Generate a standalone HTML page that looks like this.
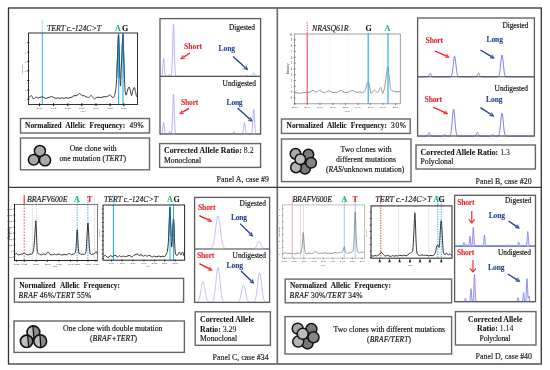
<!DOCTYPE html>
<html><head><meta charset="utf-8"><title>Figure</title>
<style>
html,body{margin:0;padding:0;background:#fff;width:550px;height:370px;overflow:hidden;}
svg{display:block;filter:blur(0.3px);}
text{font-family:'Liberation Serif', 'Times New Roman', serif;}
</style></head><body>
<svg width="550" height="370" viewBox="0 0 550 370">
<rect width="550" height="370" fill="#fff"/>
<rect x="8.5" y="8" width="532.8" height="356" fill="none" stroke="#333" stroke-width="1.3"/>
<line x1="277.3" y1="8" x2="277.3" y2="364" stroke="#707070" stroke-width="1.7"/>
<line x1="8.5" y1="187.4" x2="541.3" y2="187.4" stroke="#3a3a3a" stroke-width="1.1"/>
<line x1="42.3" y1="20" x2="42.3" y2="33" stroke="#a6e0f7" stroke-width="1.0"/>
<line x1="42.3" y1="33" x2="42.3" y2="104.5" stroke="#26b2ec" stroke-width="1.0"/>
<path d="M29,97.5 C29.2,97.33 29.78,96.82 30.2,96.5 C30.62,96.18 31.1,95.43 31.5,95.6 C31.9,95.77 32.25,96.9 32.6,97.5 C32.95,98.1 33.2,99.18 33.6,99.2 C34,99.22 34.52,97.93 35,97.6 C35.48,97.27 36,97.13 36.5,97.2 C37,97.27 37.42,97.97 38,98 C38.58,98.03 39.33,97.6 40,97.4 C40.67,97.2 41.33,96.77 42,96.8 C42.67,96.83 43.33,97.32 44,97.6 C44.67,97.88 45.33,98.5 46,98.5 C46.67,98.5 47.33,97.85 48,97.6 C48.67,97.35 49.3,97.17 50,97 C50.7,96.83 51.53,96.47 52.2,96.6 C52.87,96.73 53.37,97.53 54,97.8 C54.63,98.07 55.33,98.17 56,98.2 C56.67,98.23 57.33,97.97 58,98 C58.67,98.03 59.33,98.43 60,98.4 C60.67,98.37 61.33,97.8 62,97.8 C62.67,97.8 63.33,98.43 64,98.4 C64.67,98.37 65.33,97.62 66,97.6 C66.67,97.58 67.33,98.3 68,98.3 C68.67,98.3 69.33,97.78 70,97.6 C70.67,97.42 71.33,97.53 72,97.2 C72.67,96.87 73.33,95.83 74,95.6 C74.67,95.37 75.33,95.97 76,95.8 C76.67,95.63 77.33,94.98 78,94.6 C78.67,94.22 79.33,93.3 80,93.5 C80.67,93.7 81.3,95.45 82,95.8 C82.7,96.15 83.53,95.43 84.2,95.6 C84.87,95.77 85.28,96.48 86,96.8 C86.72,97.12 87.83,97.57 88.5,97.5 C89.17,97.43 89.53,96.72 90,96.4 C90.47,96.08 90.8,95.42 91.3,95.6 C91.8,95.78 92.47,96.93 93,97.5 C93.53,98.07 94,98.95 94.5,99 C95,99.05 95.42,98.1 96,97.8 C96.58,97.5 97.33,97.23 98,97.2 C98.67,97.17 99.33,97.58 100,97.6 C100.67,97.62 101.33,97.48 102,97.3 C102.67,97.12 103.33,96.55 104,96.5 C104.67,96.45 105.33,97.08 106,97 C106.67,96.92 107.27,96.33 108,96 C108.73,95.67 109.73,94.83 110.4,95 C111.07,95.17 111.57,96.53 112,97 C112.43,97.47 112.83,97.67 113,97.8" fill="none" stroke="#2a2a2a" stroke-width="0.9" stroke-linejoin="round"/>
<path d="M113,97.8 C113.2,97.58 113.82,97.5 114.2,96.5 C114.58,95.5 114.92,94.22 115.3,91.8 C115.68,89.38 116.12,88.13 116.5,82 C116.88,75.87 117.27,62.92 117.6,55 C117.93,47.08 118.22,34.5 118.5,34.5 C118.78,34.5 118.98,46.42 119.3,55 C119.62,63.58 120.03,84.5 120.4,86 C120.77,87.5 121.18,70.83 121.5,64 C121.82,57.17 122.05,49.92 122.3,45 C122.55,40.08 122.77,32.83 123,34.5 C123.23,36.17 123.43,47.08 123.7,55 C123.97,62.92 124.32,75.67 124.6,82 C124.88,88.33 125.13,90.83 125.4,93 C125.67,95.17 125.83,95.5 126.2,95 C126.57,94.5 127.12,91.33 127.6,90 C128.08,88.67 128.63,86.83 129.1,87 C129.57,87.17 129.98,89.57 130.4,91 C130.82,92.43 131.17,95.77 131.6,95.6 C132.03,95.43 132.55,91.35 133,90 C133.45,88.65 133.88,87.25 134.3,87.5 C134.72,87.75 135.13,90.05 135.5,91.5 C135.87,92.95 136.2,95.32 136.5,96.2 C136.8,97.08 137.17,96.7 137.3,96.8" fill="none" stroke="#2a2a2a" stroke-width="0.9" stroke-linejoin="round"/>
<line x1="118.6" y1="33" x2="118.6" y2="104.5" stroke="#26b2ec" stroke-width="1.1"/>
<line x1="123" y1="33" x2="123" y2="104.5" stroke="#26b2ec" stroke-width="1.1"/>
<path d="M116.6,78 C116.77,74.17 117.28,62.25 117.6,55 C117.92,47.75 118.22,34.5 118.5,34.5 C118.78,34.5 119.05,47.75 119.3,55 C119.55,62.25 119.88,74.17 120,78" fill="none" stroke="#1d5a80" stroke-width="0.9" stroke-linejoin="round"/>
<path d="M121.7,62 C121.8,59.17 122.08,49.58 122.3,45 C122.52,40.42 122.77,32.83 123,34.5 C123.23,36.17 123.47,47.75 123.7,55 C123.93,62.25 124.28,74.17 124.4,78" fill="none" stroke="#1d5a80" stroke-width="0.9" stroke-linejoin="round"/>
<rect x="28.5" y="33" width="109" height="71.5" fill="none" stroke="#333" stroke-width="1.0"/>
<line x1="27.1" y1="42.6" x2="29.3" y2="42.6" stroke="#111" stroke-width="0.8"/>
<text x="26.3" y="43.9" font-size="2.8" fill="#444" text-anchor="end">7</text>
<line x1="27.1" y1="52.2" x2="29.3" y2="52.2" stroke="#111" stroke-width="0.8"/>
<text x="26.3" y="53.5" font-size="2.8" fill="#444" text-anchor="end">6</text>
<line x1="27.1" y1="61.4" x2="29.3" y2="61.4" stroke="#111" stroke-width="0.8"/>
<text x="26.3" y="62.7" font-size="2.8" fill="#444" text-anchor="end">5</text>
<line x1="27.1" y1="70.8" x2="29.3" y2="70.8" stroke="#111" stroke-width="0.8"/>
<text x="26.3" y="72.1" font-size="2.8" fill="#444" text-anchor="end">4</text>
<line x1="27.1" y1="80.5" x2="29.3" y2="80.5" stroke="#111" stroke-width="0.8"/>
<text x="26.3" y="81.8" font-size="2.8" fill="#444" text-anchor="end">3</text>
<line x1="27.1" y1="90" x2="29.3" y2="90" stroke="#111" stroke-width="0.8"/>
<text x="26.3" y="91.3" font-size="2.8" fill="#444" text-anchor="end">2</text>
<line x1="27.1" y1="99.4" x2="29.3" y2="99.4" stroke="#111" stroke-width="0.8"/>
<text x="26.3" y="100.7" font-size="2.8" fill="#444" text-anchor="end">1</text>
<line x1="39.6" y1="103.3" x2="39.6" y2="106.2" stroke="#111" stroke-width="1.0"/>
<text x="39.6" y="109" font-size="2.8" fill="#444" text-anchor="middle">4620</text>
<line x1="53.6" y1="103.3" x2="53.6" y2="106.2" stroke="#111" stroke-width="1.0"/>
<text x="53.6" y="109" font-size="2.8" fill="#444" text-anchor="middle">4700</text>
<line x1="67.8" y1="103.3" x2="67.8" y2="106.2" stroke="#111" stroke-width="1.0"/>
<text x="67.8" y="109" font-size="2.8" fill="#444" text-anchor="middle">4750</text>
<line x1="81.8" y1="103.3" x2="81.8" y2="106.2" stroke="#111" stroke-width="1.0"/>
<text x="81.8" y="109" font-size="2.8" fill="#444" text-anchor="middle">4800</text>
<line x1="96" y1="103.3" x2="96" y2="106.2" stroke="#111" stroke-width="1.0"/>
<text x="96" y="109" font-size="2.8" fill="#444" text-anchor="middle">4850</text>
<line x1="110.1" y1="103.3" x2="110.1" y2="106.2" stroke="#111" stroke-width="1.0"/>
<text x="110.1" y="109" font-size="2.8" fill="#444" text-anchor="middle">4900</text>
<line x1="123.8" y1="103.3" x2="123.8" y2="106.2" stroke="#111" stroke-width="1.0"/>
<text x="123.8" y="109" font-size="2.8" fill="#444" text-anchor="middle">4950</text>
<text x="22.3" y="69.5" font-size="2.7" fill="#555" text-anchor="middle" transform="rotate(-90 22.3 69)">Intensity</text>
<text x="83" y="111.9" font-size="2.7" fill="#555" text-anchor="middle">Pass</text>
<text x="47" y="31.3" font-size="7.8" font-style="italic" fill="#222" stroke="#222" stroke-width="0.16" textLength="54" lengthAdjust="spacing">TERT c.-124C&gt;T</text>
<text x="114.9" y="31.3" font-size="8.0" font-weight="bold" fill="#1cb46e" stroke="#1cb46e" stroke-width="0.06" textLength="5.3" lengthAdjust="spacing">A</text>
<text x="121.9" y="31.3" font-size="8.0" font-weight="bold" fill="#111" stroke="#111" stroke-width="0.06" textLength="6" lengthAdjust="spacing">G</text>
<rect x="20.5" y="118.5" width="129" height="14.5" fill="none" stroke="#666" stroke-width="1.4"/>
<text x="25.1" y="128.2" font-size="7.35" font-weight="bold" fill="#111" stroke="#111" stroke-width="0.06" textLength="36.6" lengthAdjust="spacing">Normalized</text>
<text x="65.2" y="128.2" font-size="7.35" font-weight="bold" fill="#111" stroke="#111" stroke-width="0.06" textLength="20.3" lengthAdjust="spacing">Allelic</text>
<text x="89.5" y="128.2" font-size="7.35" font-weight="bold" fill="#111" stroke="#111" stroke-width="0.06" textLength="35.7" lengthAdjust="spacing">Frequency:</text>
<text x="129.6" y="128.2" font-size="7.35" fill="#111" stroke="#111" stroke-width="0.16" textLength="14" lengthAdjust="spacing">49%</text>
<rect x="20.5" y="138" width="129" height="31.8" fill="none" stroke="#666" stroke-width="1.4"/>
<circle cx="33.7" cy="159.7" r="5.3" fill="#a9a9a9" stroke="#111" stroke-width="1.5"/>
<circle cx="45" cy="160.2" r="5.6" fill="#a9a9a9" stroke="#111" stroke-width="1.5"/>
<circle cx="39.9" cy="151" r="5.5" fill="#a9a9a9" stroke="#111" stroke-width="1.5"/>
<text x="93.2" y="151.1" font-size="7.7" fill="#111" stroke="#111" stroke-width="0.16" text-anchor="middle" textLength="47" lengthAdjust="spacing">One clone with</text>
<text x="92.7" y="160.9" font-size="7.7" fill="#111" stroke="#111" stroke-width="0.16" text-anchor="middle" textLength="66.6" lengthAdjust="spacing">one mutation  (<tspan font-style="italic">TERT</tspan>)</text>
<polyline points="160.6,76.3 160.9,76.29 161.2,76.25 161.5,76.1 161.8,75.64 162.1,74.49 162.4,72.16 162.7,68.42 163,63.83 163.3,59.88 163.6,58.3 163.9,59.88 164.2,63.83 164.5,68.42 164.8,72.16 165.1,74.49 165.4,75.64 165.7,76.1 166,76.25 166.3,76.29 167.5,76.26 167.8,76.16 168.1,75.89 168.4,75.4 168.7,74.75 169,74.22 169.3,74.13 169.6,74.54 169.9,75.19 170.2,75.75 170.5,76.07 170.8,76.16 171.1,75.97 171.4,75.27 171.7,73.38 172,69.26 172.3,61.84 172.6,50.99 172.9,38.54 173.2,28.3 173.5,24.3 173.8,28.3 174.1,38.54 174.4,50.99 174.7,61.84 175,69.26 175.3,73.38 175.6,75.27 175.9,75.99 176.2,76.22 176.5,76.28 245.2,76.29 245.5,76.25 245.8,76.14 246.1,75.91 246.4,75.57 246.7,75.24 247,75.1 247.3,75.24 247.6,75.57 247.9,75.91 248.2,76.14 248.5,76.25 248.8,76.29 251.2,76.27 251.5,76.22 251.8,76.09 252.1,75.83 252.4,75.37 252.7,74.7 253,73.91 253.3,73.21 253.6,72.83 253.9,72.91 254.2,73.42 254.5,74.18 254.8,74.94 255.1,75.54 255.4,75.93 255.7,76.15 256,76.24 256.3,76.28 259.9,76.3" fill="none" stroke="#a9a9f0" stroke-width="0.85" stroke-linejoin="round"/>
<polyline points="160.6,134.2 161.2,134.17 161.5,134.07 161.8,133.76 162.1,132.99 162.4,131.44 162.7,128.95 163,125.89 163.3,123.25 163.6,122.2 163.9,123.25 164.2,125.89 164.5,128.95 164.8,131.44 165.1,132.99 165.4,133.76 165.7,134.07 166,134.17 167.5,134.19 167.8,134.15 168.1,134 168.4,133.64 168.7,132.97 169,132.08 169.3,131.36 169.6,131.24 169.9,131.8 170.2,132.68 170.5,133.44 170.8,133.85 171.1,133.88 171.4,133.39 171.7,131.95 172,128.79 172.3,123.08 172.6,114.73 172.9,105.15 173.2,97.28 173.5,94.2 173.8,97.28 174.1,105.15 174.4,114.73 174.7,123.08 175,128.79 175.3,131.95 175.6,133.41 175.9,133.96 176.2,134.14 176.5,134.19 232.3,134.15 232.6,134.04 232.9,133.73 233.2,133.17 233.5,132.43 233.8,131.84 234.1,131.73 234.4,132.2 234.7,132.93 235,133.58 235.3,133.96 235.6,134.13 235.9,134.18 241.6,134.18 241.9,134.14 242.2,134.01 242.5,133.67 242.8,132.95 243.1,131.6 243.4,129.54 243.7,126.92 244,124.33 244.3,122.57 244.6,122.29 244.9,123.61 245.2,126.02 245.5,128.71 245.8,131 246.1,132.58 246.4,133.48 246.7,133.93 247,134.11 247.3,134.17 250.6,134.19 250.9,134.15 251.2,134.01 251.5,133.63 251.8,132.71 252.1,130.82 252.4,127.52 252.7,122.75 253,117.15 253.3,112.14 253.6,109.39 253.9,109.97 254.2,113.64 254.5,119.04 254.8,124.49 255.1,128.79 255.4,131.59 255.7,133.1 256,133.8 256.3,134.07 256.6,134.16 259.9,134.2" fill="none" stroke="#a9a9f0" stroke-width="0.85" stroke-linejoin="round"/>
<rect x="160" y="18.6" width="100.6" height="115.4" fill="none" stroke="#5a5a5a" stroke-width="1.3"/>
<line x1="160" y1="76.3" x2="260.6" y2="76.3" stroke="#555" stroke-width="1.2"/>
<text x="229" y="29.5" font-size="7.4" fill="#111" stroke="#111" stroke-width="0.16" textLength="26" lengthAdjust="spacing">Digested</text>
<text x="184" y="48.9" font-size="7.6" font-weight="bold" fill="#ec1c24" stroke="#ec1c24" stroke-width="0.06" textLength="18" lengthAdjust="spacing">Short</text>
<line x1="190" y1="53" x2="183.34" y2="57.21" stroke="#ec1c24" stroke-width="1.3"/>
<polygon points="182.98,55.07 180.5,59 185.12,58.45 182.63,57.65" fill="#ec1c24" stroke="#ec1c24" stroke-width="0.4" stroke-linejoin="miter"/>
<text x="218.6" y="51.1" font-size="7.5" font-weight="bold" fill="#1f3d8f" stroke="#1f3d8f" stroke-width="0.06" textLength="16.4" lengthAdjust="spacing">Long</text>
<line x1="233" y1="56.4" x2="245.51" y2="67.74" stroke="#1f3d8f" stroke-width="1.3"/>
<polygon points="243.55,68.66 248,70 246.23,65.7 246.13,68.31" fill="#1f3d8f" stroke="#1f3d8f" stroke-width="0.4" stroke-linejoin="miter"/>
<text x="222.6" y="85.9" font-size="7.4" fill="#111" stroke="#111" stroke-width="0.16" textLength="33.4" lengthAdjust="spacing">Undigested</text>
<text x="181" y="104.5" font-size="7.6" font-weight="bold" fill="#ec1c24" stroke="#ec1c24" stroke-width="0.06" textLength="17.4" lengthAdjust="spacing">Short</text>
<line x1="189" y1="108.4" x2="182.39" y2="112.29" stroke="#ec1c24" stroke-width="1.3"/>
<polygon points="182.1,110.14 179.5,114 184.13,113.59 181.67,112.72" fill="#ec1c24" stroke="#ec1c24" stroke-width="0.4" stroke-linejoin="miter"/>
<text x="226.6" y="104.5" font-size="7.5" font-weight="bold" fill="#1f3d8f" stroke="#1f3d8f" stroke-width="0.06" textLength="16" lengthAdjust="spacing">Long</text>
<line x1="237.6" y1="108" x2="249.93" y2="119.33" stroke="#1f3d8f" stroke-width="1.3"/>
<polygon points="247.95,120.23 252.4,121.6 250.66,117.29 250.54,119.89" fill="#1f3d8f" stroke="#1f3d8f" stroke-width="0.4" stroke-linejoin="miter"/>
<rect x="159.6" y="143.6" width="101" height="23.8" fill="none" stroke="#666" stroke-width="1.4"/>
<text x="164" y="153.1" font-size="7.8" font-weight="bold" fill="#111" stroke="#111" stroke-width="0.06" textLength="89.6" lengthAdjust="spacing">Corrected Allele Ratio:<tspan font-weight="normal"> 8.2</tspan></text>
<text x="164" y="162.9" font-size="7.7" fill="#111" stroke="#111" stroke-width="0.16">Monoclonal</text>
<text x="216.6" y="182.4" font-size="7.9" fill="#222" stroke="#222" stroke-width="0.16" textLength="52.4" lengthAdjust="spacing">Panel A, case #9</text>
<line x1="330" y1="34" x2="330" y2="103.8" stroke="#f0f0f0" stroke-width="0.6"/>
<line x1="348" y1="34" x2="348" y2="103.8" stroke="#f0f0f0" stroke-width="0.6"/>
<line x1="384" y1="34" x2="384" y2="103.8" stroke="#f0f0f0" stroke-width="0.6"/>
<line x1="307.2" y1="22" x2="307.2" y2="34" stroke="#f06060" stroke-width="1.0" stroke-dasharray="1.5,1"/>
<line x1="307.2" y1="34" x2="307.2" y2="103.8" stroke="#f04545" stroke-width="1.05"/>
<path d="M294.5,92.6 C294.92,92.65 296.08,92.8 297,92.9 C297.92,93 299,93.25 300,93.2 C301,93.15 302,92.73 303,92.6 C304,92.47 305,92.43 306,92.4 C307,92.37 308.17,92.53 309,92.4 C309.83,92.27 310.33,91.97 311,91.6 C311.67,91.23 312.33,90.2 313,90.2 C313.67,90.2 314.33,91.27 315,91.6 C315.67,91.93 316.27,92.43 317,92.2 C317.73,91.97 318.65,90.33 319.4,90.2 C320.15,90.07 320.68,90.97 321.5,91.4 C322.32,91.83 323.38,92.77 324.3,92.8 C325.22,92.83 326.22,91.93 327,91.6 C327.78,91.27 328.33,90.77 329,90.8 C329.67,90.83 330.33,91.5 331,91.8 C331.67,92.1 332.33,92.53 333,92.6 C333.67,92.67 334.33,92.23 335,92.2 C335.67,92.17 336.33,92.57 337,92.4 C337.67,92.23 338.33,91.53 339,91.2 C339.67,90.87 340.33,90.33 341,90.4 C341.67,90.47 342.33,91.23 343,91.6 C343.67,91.97 344.33,92.47 345,92.6 C345.67,92.73 346.33,92.5 347,92.4 C347.67,92.3 348.33,92.27 349,92 C349.67,91.73 350.33,91.03 351,90.8 C351.67,90.57 352.33,90.43 353,90.6 C353.67,90.77 354.33,91.5 355,91.8 C355.67,92.1 356.33,92.37 357,92.4 C357.67,92.43 358.33,92.03 359,92 C359.67,91.97 360.42,92.1 361,92.2 C361.58,92.3 362,92.67 362.5,92.6 C363,92.53 363.5,92.32 364,91.8 C364.5,91.28 365.03,90.72 365.5,89.5 C365.97,88.28 366.35,85.78 366.8,84.5 C367.25,83.22 367.77,81.72 368.2,81.8 C368.63,81.88 369.05,83.63 369.4,85 C369.75,86.37 370.03,88.6 370.3,90 C370.57,91.4 370.62,93.15 371,93.4 C371.38,93.65 372.02,92.03 372.6,91.5 C373.18,90.97 373.9,90.2 374.5,90.2 C375.1,90.2 375.62,91.1 376.2,91.5 C376.78,91.9 377.45,92.93 378,92.6 C378.55,92.27 379.03,90.37 379.5,89.5 C379.97,88.63 380.42,87.32 380.8,87.4 C381.18,87.48 381.5,88.95 381.8,90 C382.1,91.05 382.23,93.7 382.6,93.7 C382.97,93.7 383.57,91.62 384,90 C384.43,88.38 384.8,86.5 385.2,84 C385.6,81.5 385.97,77.83 386.4,75 C386.83,72.17 387.33,66.67 387.8,67 C388.27,67.33 388.82,74 389.2,77 C389.58,80 389.87,83.03 390.1,85 C390.33,86.97 390.28,87.9 390.6,88.8 C390.92,89.7 391.52,90 392,90.4 C392.48,90.8 392.83,90.97 393.5,91.2 C394.17,91.43 395.25,91.73 396,91.8 C396.75,91.87 397.33,91.63 398,91.6 C398.67,91.57 399.67,91.6 400,91.6" fill="none" stroke="#808080" stroke-width="0.8" stroke-linejoin="round"/>
<line x1="368.2" y1="33" x2="368.2" y2="103.8" stroke="#26b2ec" stroke-width="1.2"/>
<line x1="388" y1="33" x2="388" y2="103.8" stroke="#26b2ec" stroke-width="1.2"/>
<rect x="294.5" y="34" width="105.8" height="69.8" fill="none" stroke="#888" stroke-width="0.8"/>
<line x1="293.7" y1="39.82" x2="295.9" y2="39.82" stroke="#555" stroke-width="0.6"/>
<text x="292.3" y="41.12" font-size="3.0" fill="#444" text-anchor="end">9</text>
<line x1="293.7" y1="45.63" x2="295.9" y2="45.63" stroke="#555" stroke-width="0.6"/>
<text x="292.3" y="46.93" font-size="3.0" fill="#444" text-anchor="end">8</text>
<line x1="293.7" y1="51.45" x2="295.9" y2="51.45" stroke="#555" stroke-width="0.6"/>
<text x="292.3" y="52.75" font-size="3.0" fill="#444" text-anchor="end">7</text>
<line x1="293.7" y1="57.27" x2="295.9" y2="57.27" stroke="#555" stroke-width="0.6"/>
<text x="292.3" y="58.57" font-size="3.0" fill="#444" text-anchor="end">6</text>
<line x1="293.7" y1="63.08" x2="295.9" y2="63.08" stroke="#555" stroke-width="0.6"/>
<text x="292.3" y="64.38" font-size="3.0" fill="#444" text-anchor="end">5</text>
<line x1="293.7" y1="68.9" x2="295.9" y2="68.9" stroke="#555" stroke-width="0.6"/>
<text x="292.3" y="70.2" font-size="3.0" fill="#444" text-anchor="end">4</text>
<line x1="293.7" y1="74.72" x2="295.9" y2="74.72" stroke="#555" stroke-width="0.6"/>
<text x="292.3" y="76.02" font-size="3.0" fill="#444" text-anchor="end">3</text>
<line x1="293.7" y1="80.53" x2="295.9" y2="80.53" stroke="#555" stroke-width="0.6"/>
<text x="292.3" y="81.83" font-size="3.0" fill="#444" text-anchor="end">2</text>
<line x1="293.7" y1="86.35" x2="295.9" y2="86.35" stroke="#555" stroke-width="0.6"/>
<text x="292.3" y="87.65" font-size="3.0" fill="#444" text-anchor="end">1</text>
<line x1="293.7" y1="92.17" x2="295.9" y2="92.17" stroke="#555" stroke-width="0.6"/>
<text x="292.3" y="93.47" font-size="3.0" fill="#444" text-anchor="end">0</text>
<line x1="293.7" y1="97.98" x2="295.9" y2="97.98" stroke="#555" stroke-width="0.6"/>
<text x="292.3" y="99.28" font-size="3.0" fill="#444" text-anchor="end">-1</text>
<line x1="293.7" y1="103.8" x2="295.9" y2="103.8" stroke="#555" stroke-width="0.6"/>
<text x="292.3" y="105.1" font-size="3.0" fill="#444" text-anchor="end"></text>
<text x="292.3" y="36" font-size="3.0" fill="#444" text-anchor="end">10</text>
<line x1="294.5" y1="103" x2="294.5" y2="105.2" stroke="#555" stroke-width="0.6"/>
<text x="294.5" y="108.3" font-size="2.9" fill="#444" text-anchor="middle">4450</text>
<line x1="307.2" y1="103" x2="307.2" y2="105.2" stroke="#555" stroke-width="0.6"/>
<text x="307.2" y="108.3" font-size="2.9" fill="#444" text-anchor="middle">4500</text>
<line x1="320" y1="103" x2="320" y2="105.2" stroke="#555" stroke-width="0.6"/>
<text x="320" y="108.3" font-size="2.9" fill="#444" text-anchor="middle">4550</text>
<line x1="333" y1="103" x2="333" y2="105.2" stroke="#555" stroke-width="0.6"/>
<text x="333" y="108.3" font-size="2.9" fill="#444" text-anchor="middle">4600</text>
<line x1="345.5" y1="103" x2="345.5" y2="105.2" stroke="#555" stroke-width="0.6"/>
<text x="345.5" y="108.3" font-size="2.9" fill="#444" text-anchor="middle">4650</text>
<line x1="358" y1="103" x2="358" y2="105.2" stroke="#555" stroke-width="0.6"/>
<text x="358" y="108.3" font-size="2.9" fill="#444" text-anchor="middle">4700</text>
<line x1="370.5" y1="103" x2="370.5" y2="105.2" stroke="#555" stroke-width="0.6"/>
<text x="370.5" y="108.3" font-size="2.9" fill="#444" text-anchor="middle">4750</text>
<line x1="383" y1="103" x2="383" y2="105.2" stroke="#555" stroke-width="0.6"/>
<text x="383" y="108.3" font-size="2.9" fill="#444" text-anchor="middle">4800</text>
<line x1="395.5" y1="103" x2="395.5" y2="105.2" stroke="#555" stroke-width="0.6"/>
<text x="395.5" y="108.3" font-size="2.9" fill="#444" text-anchor="middle">4850</text>
<text x="288.6" y="69.5" font-size="3.0" fill="#444" text-anchor="middle" transform="rotate(-90 288.4 69)">Intensity</text>
<text x="347" y="111.7" font-size="2.8" fill="#444" text-anchor="middle">Pass</text>
<text x="312" y="31.3" font-size="7.8" font-style="italic" fill="#222" stroke="#222" stroke-width="0.16" textLength="36.6" lengthAdjust="spacing">NRASQ61R</text>
<text x="365.6" y="31.3" font-size="8.0" font-weight="bold" fill="#111" stroke="#111" stroke-width="0.06" textLength="5.8" lengthAdjust="spacing">G</text>
<text x="384.6" y="31.3" font-size="8.0" font-weight="bold" fill="#1cb46e" stroke="#1cb46e" stroke-width="0.06" textLength="5.8" lengthAdjust="spacing">A</text>
<rect x="281.5" y="119" width="128.7" height="14.4" fill="none" stroke="#666" stroke-width="1.4"/>
<text x="286.6" y="128.2" font-size="7.35" font-weight="bold" fill="#111" stroke="#111" stroke-width="0.06" textLength="36.7" lengthAdjust="spacing">Normalized</text>
<text x="327.1" y="128.2" font-size="7.35" font-weight="bold" fill="#111" stroke="#111" stroke-width="0.06" textLength="19.7" lengthAdjust="spacing">Allelic</text>
<text x="350.7" y="128.2" font-size="7.35" font-weight="bold" fill="#111" stroke="#111" stroke-width="0.06" textLength="36.3" lengthAdjust="spacing">Frequency:</text>
<text x="391.1" y="128.2" font-size="7.35" fill="#111" stroke="#111" stroke-width="0.16" textLength="14.7" lengthAdjust="spacing">30%</text>
<rect x="281.5" y="139" width="129.5" height="42.6" fill="none" stroke="#666" stroke-width="1.4"/>
<circle cx="295.5" cy="153.9" r="5.3" fill="#a8a8a8" stroke="#111" stroke-width="1.5"/>
<circle cx="308.4" cy="154.6" r="5.3" fill="#7a7a7a" stroke="#111" stroke-width="1.5"/>
<circle cx="305" cy="168.8" r="5.3" fill="#787878" stroke="#111" stroke-width="1.5"/>
<circle cx="311.1" cy="162.7" r="5.3" fill="#868686" stroke="#111" stroke-width="1.5"/>
<circle cx="296" cy="167.4" r="5.3" fill="#b5b5b5" stroke="#111" stroke-width="1.5"/>
<circle cx="300.3" cy="159.3" r="5.3" fill="#bdbdbd" stroke="#111" stroke-width="1.5"/>
<text x="366" y="152.1" font-size="7.7" fill="#111" stroke="#111" stroke-width="0.16" text-anchor="middle" textLength="51" lengthAdjust="spacing">Two clones  with</text>
<text x="366" y="162.1" font-size="7.7" fill="#111" stroke="#111" stroke-width="0.16" text-anchor="middle" textLength="60" lengthAdjust="spacing">different  mutations</text>
<text x="365.2" y="171.5" font-size="7.6" fill="#111" stroke="#111" stroke-width="0.16" text-anchor="middle" textLength="78.4" lengthAdjust="spacing">(<tspan font-style="italic">RAS</tspan>/unknown  mutation)</text>
<polyline points="418.2,77 427.2,76.97 427.5,76.92 427.8,76.83 428.1,76.66 428.4,76.37 428.7,75.94 429,75.37 429.3,74.7 429.6,74.03 429.9,73.49 430.2,73.22 430.5,73.28 430.8,73.65 431.1,74.24 431.4,74.92 431.7,75.57 432,76.1 432.3,76.49 432.6,76.73 432.9,76.87 433.2,76.94 433.5,76.98 450,76.96 450.3,76.91 450.6,76.82 450.9,76.64 451.2,76.32 451.5,75.79 451.8,74.95 452.1,73.73 452.4,72.03 452.7,69.85 453,67.25 453.3,64.38 453.6,61.53 453.9,59.01 454.2,57.16 454.5,56.26 454.8,56.44 455.1,57.68 455.4,59.79 455.7,62.46 456,65.35 456.3,68.15 456.6,70.63 456.9,72.65 457.2,74.19 457.5,75.27 457.8,75.99 458.1,76.45 458.4,76.71 458.7,76.86 459,76.93 459.3,76.97 475.5,76.96 475.8,76.9 476.1,76.79 476.4,76.58 476.7,76.25 477,75.77 477.3,75.15 477.6,74.47 477.9,73.83 478.2,73.37 478.5,73.2 478.8,73.37 479.1,73.83 479.4,74.47 479.7,75.15 480,75.77 480.3,76.25 480.6,76.58 480.9,76.79 481.2,76.9 481.5,76.96 497.4,76.96 497.7,76.91 498,76.81 498.3,76.62 498.6,76.28 498.9,75.72 499.2,74.84 499.5,73.54 499.8,71.75 500.1,69.44 500.4,66.68 500.7,63.66 501,60.63 501.3,57.97 501.6,56.02 501.9,55.06 502.2,55.26 502.5,56.57 502.8,58.8 503.1,61.62 503.4,64.68 503.7,67.64 504,70.26 504.3,72.4 504.6,74.02 504.9,75.17 505.2,75.94 505.5,76.41 505.8,76.69 506.1,76.85 506.4,76.93 506.7,76.97 533.7,77" fill="none" stroke="#6e6ef2" stroke-width="0.9" stroke-linejoin="round"/>
<polyline points="418.2,136.2 426,136.18 426.3,136.15 426.6,136.08 426.9,135.94 427.2,135.71 427.5,135.35 427.8,134.85 428.1,134.23 428.4,133.59 428.7,133.02 429,132.67 429.3,132.62 429.6,132.88 429.9,133.38 430.2,134.02 430.5,134.65 430.8,135.2 431.1,135.61 431.4,135.88 431.7,136.04 432,136.13 432.3,136.17 442.2,136.16 442.5,136.11 442.8,136.01 443.1,135.83 443.4,135.57 443.7,135.23 444,134.87 444.3,134.57 444.6,134.41 444.9,134.44 445.2,134.66 445.5,134.99 445.8,135.35 446.1,135.66 446.4,135.9 446.7,136.05 447,136.13 447.3,136.17 448.8,136.17 449.1,136.13 449.4,136.05 449.7,135.9 450,135.62 450.3,135.12 450.6,134.32 450.9,133.08 451.2,131.29 451.5,128.88 451.8,125.85 452.1,122.32 452.4,118.57 452.7,114.95 453,111.93 453.3,109.91 453.6,109.2 453.9,109.91 454.2,111.93 454.5,114.95 454.8,118.57 455.1,122.32 455.4,125.85 455.7,128.88 456,131.29 456.3,133.08 456.6,134.32 456.9,135.12 457.2,135.62 457.5,135.9 457.8,136.05 458.1,136.13 458.4,136.17 474.3,136.17 474.6,136.13 474.9,136.04 475.2,135.88 475.5,135.61 475.8,135.2 476.1,134.65 476.4,134.02 476.7,133.38 477,132.88 477.3,132.62 477.6,132.67 477.9,133.02 478.2,133.59 478.5,134.23 478.8,134.85 479.1,135.35 479.4,135.71 479.7,135.94 480,136.08 480.3,136.15 480.6,136.18 490.2,136.17 490.5,136.13 490.8,136.05 491.1,135.9 491.4,135.66 491.7,135.35 492,134.99 492.3,134.66 492.6,134.44 492.9,134.41 493.2,134.57 493.5,134.87 493.8,135.23 494.1,135.57 494.4,135.83 494.7,136.01 495,136.11 495.3,136.16 497.4,136.16 497.7,136.1 498,136 498.3,135.8 498.6,135.45 498.9,134.86 499.2,133.94 499.5,132.58 499.8,130.71 500.1,128.3 500.4,125.42 500.7,122.25 501,119.09 501.3,116.3 501.6,114.26 501.9,113.27 502.2,113.47 502.5,114.84 502.8,117.17 503.1,120.12 503.4,123.32 503.7,126.42 504,129.16 504.3,131.39 504.6,133.09 504.9,134.29 505.2,135.09 505.5,135.59 505.8,135.88 506.1,136.04 506.4,136.13 506.7,136.17 533.7,136.2" fill="none" stroke="#6e6ef2" stroke-width="0.9" stroke-linejoin="round"/>
<rect x="417.6" y="18" width="116.8" height="118" fill="none" stroke="#5a5a5a" stroke-width="1.3"/>
<line x1="417.6" y1="76.8" x2="534.4" y2="76.8" stroke="#444" stroke-width="1.1"/>
<text x="502.4" y="27.9" font-size="7.4" fill="#111" stroke="#111" stroke-width="0.16" textLength="26" lengthAdjust="spacing">Digested</text>
<text x="425.6" y="42.5" font-size="7.6" font-weight="bold" fill="#ec1c24" stroke="#ec1c24" stroke-width="0.06" textLength="17.4" lengthAdjust="spacing">Short</text>
<line x1="435" y1="51" x2="446.52" y2="56.05" stroke="#ec1c24" stroke-width="1.3"/>
<polygon points="444.95,57.55 449.6,57.4 446.56,53.88 447.29,56.39" fill="#ec1c24" stroke="#ec1c24" stroke-width="0.4" stroke-linejoin="miter"/>
<text x="486.4" y="41.9" font-size="7.5" font-weight="bold" fill="#1f3d8f" stroke="#1f3d8f" stroke-width="0.06" textLength="16.6" lengthAdjust="spacing">Long</text>
<line x1="480.4" y1="50" x2="491.52" y2="56.67" stroke="#1f3d8f" stroke-width="1.3"/>
<polygon points="489.77,57.95 494.4,58.4 491.83,54.52 492.24,57.1" fill="#1f3d8f" stroke="#1f3d8f" stroke-width="0.4" stroke-linejoin="miter"/>
<text x="494.6" y="90.5" font-size="7.4" fill="#111" stroke="#111" stroke-width="0.16" textLength="33.4" lengthAdjust="spacing">Undigested</text>
<text x="424.6" y="101.9" font-size="7.6" font-weight="bold" fill="#ec1c24" stroke="#ec1c24" stroke-width="0.06" textLength="17.4" lengthAdjust="spacing">Short</text>
<line x1="433" y1="107" x2="444.96" y2="112.58" stroke="#ec1c24" stroke-width="1.3"/>
<polygon points="443.35,114.04 448,114 445.04,110.41 445.72,112.93" fill="#ec1c24" stroke="#ec1c24" stroke-width="0.4" stroke-linejoin="miter"/>
<text x="486" y="101.9" font-size="7.5" font-weight="bold" fill="#1f3d8f" stroke="#1f3d8f" stroke-width="0.06" textLength="16.6" lengthAdjust="spacing">Long</text>
<line x1="480.4" y1="107.6" x2="491.18" y2="114.57" stroke="#1f3d8f" stroke-width="1.3"/>
<polygon points="489.39,115.8 494,116.4 491.56,112.44 491.88,115.03" fill="#1f3d8f" stroke="#1f3d8f" stroke-width="0.4" stroke-linejoin="miter"/>
<rect x="416" y="145" width="119.4" height="24" fill="none" stroke="#666" stroke-width="1.4"/>
<text x="420.6" y="154.5" font-size="7.8" font-weight="bold" fill="#111" stroke="#111" stroke-width="0.06" textLength="89.4" lengthAdjust="spacing">Corrected Allele Ratio:<tspan font-weight="normal"> 1.3</tspan></text>
<text x="420.6" y="164.1" font-size="7.7" fill="#111" stroke="#111" stroke-width="0.16">Polyclonal</text>
<text x="475.6" y="183.7" font-size="7.9" fill="#222" stroke="#222" stroke-width="0.16" textLength="56" lengthAdjust="spacing">Panel B, case #20</text>
<line x1="24.2" y1="195" x2="24.2" y2="204.4" stroke="#ec1c24" stroke-width="1.0"/>
<line x1="24.2" y1="204.4" x2="24.2" y2="260.5" stroke="#ee3a3a" stroke-width="0.9" stroke-dasharray="1.5,1.5"/>
<line x1="32.6" y1="197" x2="32.6" y2="260.5" stroke="#b0b0b0" stroke-width="0.6" stroke-dasharray="1.2,1"/>
<line x1="36.6" y1="197" x2="36.6" y2="260.5" stroke="#b0b0b0" stroke-width="0.6" stroke-dasharray="1.2,1"/>
<line x1="94.7" y1="197" x2="94.7" y2="260.5" stroke="#b0b0b0" stroke-width="0.6" stroke-dasharray="1.2,1"/>
<line x1="77.2" y1="197" x2="77.2" y2="260.5" stroke="#26b2ec" stroke-width="0.9" stroke-dasharray="1.5,1"/>
<line x1="87.9" y1="197" x2="87.9" y2="260.5" stroke="#26b2ec" stroke-width="0.9" stroke-dasharray="1.5,1"/>
<path d="M14.8,254.5 C15.08,254.35 15.97,253.52 16.5,253.6 C17.03,253.68 17.58,254.84 18,255 C18.42,255.16 18.67,254.66 19,254.59 C19.33,254.52 19.67,254.7 20,254.6 C20.33,254.5 20.67,254.05 21,253.98 C21.33,253.91 21.63,254.25 22,254.2 C22.37,254.15 22.8,253.91 23.2,253.68 C23.6,253.45 23.93,252.65 24.4,252.8 C24.87,252.95 25.57,254.35 26,254.6 C26.43,254.85 26.67,254.22 27,254.29 C27.33,254.35 27.67,254.94 28,255 C28.33,255.06 28.67,254.78 29,254.64 C29.33,254.51 29.67,254.32 30,254.2 C30.33,254.08 30.67,253.97 31,253.94 C31.33,253.91 31.62,254.49 32,254 C32.38,253.51 32.93,252.67 33.3,251 C33.67,249.33 33.95,246.5 34.2,244 C34.45,241.5 34.6,239 34.8,236 C35,233 35.23,228.53 35.4,226 C35.57,223.47 35.65,220.47 35.8,220.8 C35.95,221.13 36.15,224.8 36.3,228 C36.45,231.2 36.55,236.33 36.7,240 C36.85,243.67 36.98,247.73 37.2,250 C37.42,252.27 37.7,253.01 38,253.6 C38.3,254.19 38.67,253.37 39,253.52 C39.33,253.67 39.67,254.31 40,254.5 C40.33,254.69 40.67,254.61 41,254.66 C41.33,254.71 41.67,254.92 42,254.8 C42.33,254.68 42.67,254.04 43,253.94 C43.33,253.84 43.67,254.14 44,254.2 C44.33,254.26 44.67,254.25 45,254.32 C45.33,254.39 45.67,254.86 46,254.6 C46.33,254.34 46.67,253.22 47,252.78 C47.33,252.35 47.67,252 48,252 C48.33,252 48.67,252.38 49,252.81 C49.33,253.24 49.67,254.3 50,254.6 C50.33,254.9 50.67,254.58 51,254.61 C51.33,254.64 51.67,254.75 52,254.8 C52.33,254.85 52.67,254.99 53,254.89 C53.33,254.79 53.67,254.32 54,254.2 C54.33,254.08 54.67,254.02 55,254.15 C55.33,254.28 55.67,254.98 56,255 C56.33,255.02 56.67,254.4 57,254.27 C57.33,254.13 57.67,254.2 58,254.2 C58.33,254.2 58.67,254.29 59,254.25 C59.33,254.22 59.67,253.87 60,254 C60.33,254.13 60.67,254.87 61,255.04 C61.33,255.2 61.67,255.04 62,255 C62.33,254.96 62.67,254.89 63,254.79 C63.33,254.69 63.67,254.45 64,254.4 C64.33,254.35 64.67,254.41 65,254.48 C65.33,254.54 65.67,254.72 66,254.8 C66.33,254.88 66.67,255.1 67,254.97 C67.33,254.84 67.67,254.27 68,254 C68.33,253.73 68.67,253.39 69,253.36 C69.33,253.32 69.67,253.59 70,253.8 C70.33,254.01 70.67,254.5 71,254.63 C71.33,254.76 71.67,254.71 72,254.6 C72.33,254.49 72.67,254.08 73,253.95 C73.33,253.81 73.58,254.12 74,253.8 C74.42,253.48 75.12,253.63 75.5,252 C75.88,250.37 76.05,247.58 76.3,244 C76.55,240.42 76.78,232.33 77,230.5 C77.22,228.67 77.4,230.42 77.6,233 C77.8,235.58 77.97,242.6 78.2,246 C78.43,249.4 78.7,252.14 79,253.4 C79.3,254.66 79.67,253.37 80,253.57 C80.33,253.77 80.67,254.52 81,254.6 C81.33,254.68 81.67,254.07 82,254.04 C82.33,254.01 82.67,254.4 83,254.4 C83.33,254.4 83.67,254.1 84,254.07 C84.33,254.04 84.63,254.88 85,254.2 C85.37,253.52 85.87,253.03 86.2,250 C86.53,246.97 86.72,240.5 87,236 C87.28,231.5 87.63,223.67 87.9,223 C88.17,222.33 88.37,228.17 88.6,232 C88.83,235.83 89.07,242.5 89.3,246 C89.53,249.5 89.72,251.64 90,253 C90.28,254.36 90.67,253.91 91,254.18 C91.33,254.45 91.67,254.64 92,254.6 C92.33,254.56 92.67,254.02 93,253.92 C93.33,253.82 93.65,254.16 94,254 C94.35,253.84 94.73,253.33 95.1,252.95 C95.47,252.56 95.78,251.44 96.2,251.7 C96.62,251.96 97.37,254.03 97.6,254.5" fill="none" stroke="#1e1e1e" stroke-width="0.9" stroke-linejoin="round"/>
<rect x="14.5" y="204.4" width="83.1" height="56.1" fill="none" stroke="#666" stroke-width="0.9"/>
<line x1="14.5" y1="204" x2="14.5" y2="260.5" stroke="#222" stroke-width="1.0"/>
<line x1="14" y1="260.5" x2="97.6" y2="260.5" stroke="#222" stroke-width="1.1"/>
<line x1="13.1" y1="209" x2="15.3" y2="209" stroke="#222" stroke-width="0.6"/>
<text x="12.3" y="210.3" font-size="2.7" fill="#333" text-anchor="end">1400</text>
<line x1="13.1" y1="215" x2="15.3" y2="215" stroke="#222" stroke-width="0.6"/>
<text x="12.3" y="216.3" font-size="2.7" fill="#333" text-anchor="end">1200</text>
<line x1="13.1" y1="221" x2="15.3" y2="221" stroke="#222" stroke-width="0.6"/>
<text x="12.3" y="222.3" font-size="2.7" fill="#333" text-anchor="end">1000</text>
<line x1="13.1" y1="227" x2="15.3" y2="227" stroke="#222" stroke-width="0.6"/>
<text x="12.3" y="228.3" font-size="2.7" fill="#333" text-anchor="end">800</text>
<line x1="13.1" y1="233" x2="15.3" y2="233" stroke="#222" stroke-width="0.6"/>
<text x="12.3" y="234.3" font-size="2.7" fill="#333" text-anchor="end">600</text>
<line x1="13.1" y1="239" x2="15.3" y2="239" stroke="#222" stroke-width="0.6"/>
<text x="12.3" y="240.3" font-size="2.7" fill="#333" text-anchor="end">400</text>
<line x1="13.1" y1="245" x2="15.3" y2="245" stroke="#222" stroke-width="0.6"/>
<text x="12.3" y="246.3" font-size="2.7" fill="#333" text-anchor="end">200</text>
<line x1="13.1" y1="251" x2="15.3" y2="251" stroke="#222" stroke-width="0.6"/>
<text x="12.3" y="252.3" font-size="2.7" fill="#333" text-anchor="end">0</text>
<line x1="13.1" y1="257" x2="15.3" y2="257" stroke="#222" stroke-width="0.6"/>
<text x="12.3" y="258.3" font-size="2.7" fill="#333" text-anchor="end">-200</text>
<line x1="16.5" y1="259.7" x2="16.5" y2="261.9" stroke="#222" stroke-width="0.8"/>
<text x="16.5" y="264.8" font-size="2.8" fill="#333" text-anchor="middle">5900</text>
<line x1="24.4" y1="259.7" x2="24.4" y2="261.9" stroke="#222" stroke-width="0.8"/>
<text x="24.4" y="264.8" font-size="2.8" fill="#333" text-anchor="middle">5950</text>
<line x1="36" y1="259.7" x2="36" y2="261.9" stroke="#222" stroke-width="0.8"/>
<text x="36" y="264.8" font-size="2.8" fill="#333" text-anchor="middle">6000</text>
<line x1="47.5" y1="259.7" x2="47.5" y2="261.9" stroke="#222" stroke-width="0.8"/>
<text x="47.5" y="264.8" font-size="2.8" fill="#333" text-anchor="middle">6050</text>
<line x1="59" y1="259.7" x2="59" y2="261.9" stroke="#222" stroke-width="0.8"/>
<text x="59" y="264.8" font-size="2.8" fill="#333" text-anchor="middle">6100</text>
<line x1="70.5" y1="259.7" x2="70.5" y2="261.9" stroke="#222" stroke-width="0.8"/>
<text x="70.5" y="264.8" font-size="2.8" fill="#333" text-anchor="middle">6150</text>
<line x1="77.2" y1="259.7" x2="77.2" y2="261.9" stroke="#222" stroke-width="0.8"/>
<text x="77.2" y="264.8" font-size="2.8" fill="#333" text-anchor="middle">6200</text>
<line x1="87.9" y1="259.7" x2="87.9" y2="261.9" stroke="#222" stroke-width="0.8"/>
<text x="87.9" y="264.8" font-size="2.8" fill="#333" text-anchor="middle">6250</text>
<line x1="96" y1="259.7" x2="96" y2="261.9" stroke="#222" stroke-width="0.8"/>
<text x="96" y="264.8" font-size="2.8" fill="#333" text-anchor="middle">6300</text>
<text x="11.6" y="231.5" font-size="3.0" font-weight="bold" fill="#333" text-anchor="middle" transform="rotate(-90 11.3 233)">Intensity</text>
<text x="55" y="266.8" font-size="2.6" fill="#333" text-anchor="middle">Pass</text>
<text x="27" y="201.5" font-size="7.9" font-style="italic" fill="#222" stroke="#222" stroke-width="0.16" textLength="40.6" lengthAdjust="spacing">BRAFV600E</text>
<text x="74" y="201.5" font-size="8.0" font-weight="bold" fill="#1cb46e" stroke="#1cb46e" stroke-width="0.06" textLength="5" lengthAdjust="spacing">A</text>
<text x="87" y="201.5" font-size="8.0" font-weight="bold" fill="#ec1c24" stroke="#ec1c24" stroke-width="0.06" textLength="4.6" lengthAdjust="spacing">T</text>
<line x1="113.4" y1="194" x2="113.4" y2="205" stroke="#a6e0f7" stroke-width="1.1"/>
<line x1="113.4" y1="205" x2="113.4" y2="260.2" stroke="#26b2ec" stroke-width="1.1"/>
<path d="M103.4,256.5 C103.67,256.33 104.57,255.6 105,255.5 C105.43,255.4 105.67,255.67 106,255.92 C106.33,256.17 106.67,256.74 107,257 C107.33,257.26 107.67,257.49 108,257.45 C108.33,257.42 108.67,257.07 109,256.8 C109.33,256.53 109.67,256.02 110,255.85 C110.33,255.68 110.67,255.71 111,255.8 C111.33,255.89 111.67,256.28 112,256.4 C112.33,256.51 112.67,256.66 113,256.5 C113.33,256.34 113.67,255.64 114,255.45 C114.33,255.27 114.67,255.36 115,255.4 C115.33,255.44 115.67,255.5 116,255.7 C116.33,255.9 116.67,256.42 117,256.6 C117.33,256.78 117.67,256.93 118,256.8 C118.33,256.67 118.67,255.94 119,255.8 C119.33,255.66 119.67,255.78 120,255.95 C120.33,256.12 120.67,256.7 121,256.8 C121.33,256.9 121.67,256.7 122,256.57 C122.33,256.44 122.67,256.04 123,256 C123.33,255.96 123.67,256.22 124,256.35 C124.33,256.48 124.67,256.78 125,256.8 C125.33,256.82 125.67,256.54 126,256.44 C126.33,256.34 126.67,256.3 127,256.2 C127.33,256.1 127.67,255.96 128,255.84 C128.33,255.73 128.67,255.53 129,255.5 C129.33,255.47 129.67,255.5 130,255.68 C130.33,255.86 130.67,256.41 131,256.6 C131.33,256.79 131.67,256.86 132,256.8 C132.33,256.73 132.67,256.48 133,256.2 C133.33,255.92 133.67,255.31 134,255.11 C134.33,254.91 134.67,255.15 135,255 C135.33,254.85 135.67,254.35 136,254.18 C136.33,254.01 136.67,253.99 137,254 C137.33,254.01 137.67,253.96 138,254.22 C138.33,254.49 138.67,255.48 139,255.6 C139.33,255.72 139.67,255.05 140,254.92 C140.33,254.79 140.67,254.74 141,254.8 C141.33,254.86 141.67,255.09 142,255.29 C142.33,255.49 142.67,255.87 143,256 C143.33,256.13 143.67,256.22 144,256.08 C144.33,255.95 144.67,255.27 145,255.2 C145.33,255.13 145.67,255.45 146,255.65 C146.33,255.85 146.67,256.42 147,256.4 C147.33,256.38 147.67,255.67 148,255.54 C148.33,255.4 148.67,255.59 149,255.6 C149.33,255.61 149.67,255.51 150,255.61 C150.33,255.71 150.67,255.95 151,256.2 C151.33,256.45 151.67,256.99 152,257.09 C152.33,257.19 152.67,256.97 153,256.8 C153.33,256.63 153.67,256.14 154,256.08 C154.33,256.01 154.67,256.29 155,256.4 C155.33,256.51 155.67,256.68 156,256.74 C156.33,256.81 156.67,256.88 157,256.8 C157.33,256.72 157.67,256.39 158,256.25 C158.33,256.12 158.67,255.94 159,256 C159.33,256.06 159.67,256.46 160,256.59 C160.33,256.73 160.67,256.85 161,256.8 C161.33,256.75 161.67,256.41 162,256.31 C162.33,256.21 162.67,256.16 163,256.2 C163.33,256.24 163.67,256.5 164,256.53 C164.33,256.56 164.55,256.94 165,256.4 C165.45,255.86 166.27,254.37 166.7,253.3 C167.13,252.23 167.28,252.55 167.6,250 C167.92,247.45 168.3,243.33 168.6,238 C168.9,232.67 169.18,223.17 169.4,218 C169.62,212.83 169.77,206.67 169.95,207 C170.13,207.33 170.29,214.5 170.5,220 C170.71,225.5 170.98,235.5 171.2,240 C171.42,244.5 171.58,247.67 171.8,247 C172.02,246.33 172.3,239.67 172.5,236 C172.7,232.33 172.83,227.92 173,225 C173.17,222.08 173.33,218.33 173.5,218.5 C173.67,218.67 173.82,222.08 174,226 C174.18,229.92 174.37,237.5 174.6,242 C174.83,246.5 175,250.75 175.4,253 C175.8,255.25 176.53,255.37 177,255.5 C177.47,255.63 177.78,254.33 178.2,253.8 C178.62,253.27 179.07,252.1 179.5,252.3 C179.93,252.5 180.3,255.05 180.8,255 C181.3,254.95 181.97,251.83 182.5,252 C183.03,252.17 183.75,255.33 184,256" fill="none" stroke="#1e1e1e" stroke-width="0.9" stroke-linejoin="round"/>
<line x1="170" y1="205" x2="170" y2="260.2" stroke="#26b2ec" stroke-width="1.0"/>
<line x1="173.5" y1="205" x2="173.5" y2="260.2" stroke="#26b2ec" stroke-width="1.0"/>
<path d="M168.7,236 C168.82,233 169.19,222.75 169.4,218 C169.61,213.25 169.77,207.17 169.95,207.5 C170.13,207.83 170.31,215.25 170.5,220 C170.69,224.75 171,233.33 171.1,236" fill="none" stroke="#1d5a80" stroke-width="0.8" stroke-linejoin="round"/>
<path d="M172.6,234 C172.67,232.5 172.85,227.5 173,225 C173.15,222.5 173.33,218.83 173.5,219 C173.67,219.17 173.83,222.83 174,226 C174.17,229.17 174.42,236 174.5,238" fill="none" stroke="#1d5a80" stroke-width="0.8" stroke-linejoin="round"/>
<rect x="103" y="205" width="81.6" height="55.2" fill="none" stroke="#222" stroke-width="1.0"/>
<line x1="101.6" y1="209" x2="103.8" y2="209" stroke="#222" stroke-width="0.6"/>
<line x1="101.6" y1="213.5" x2="103.8" y2="213.5" stroke="#222" stroke-width="0.6"/>
<line x1="101.6" y1="218" x2="103.8" y2="218" stroke="#222" stroke-width="0.6"/>
<line x1="101.6" y1="222.5" x2="103.8" y2="222.5" stroke="#222" stroke-width="0.6"/>
<line x1="101.6" y1="227" x2="103.8" y2="227" stroke="#222" stroke-width="0.6"/>
<line x1="101.6" y1="231.5" x2="103.8" y2="231.5" stroke="#222" stroke-width="0.6"/>
<line x1="101.6" y1="236" x2="103.8" y2="236" stroke="#222" stroke-width="0.6"/>
<line x1="101.6" y1="240.5" x2="103.8" y2="240.5" stroke="#222" stroke-width="0.6"/>
<line x1="101.6" y1="245" x2="103.8" y2="245" stroke="#222" stroke-width="0.6"/>
<line x1="101.6" y1="249.5" x2="103.8" y2="249.5" stroke="#222" stroke-width="0.6"/>
<line x1="101.6" y1="254" x2="103.8" y2="254" stroke="#222" stroke-width="0.6"/>
<line x1="101.6" y1="258.5" x2="103.8" y2="258.5" stroke="#222" stroke-width="0.6"/>
<line x1="111.5" y1="259.4" x2="111.5" y2="261.6" stroke="#222" stroke-width="0.8"/>
<line x1="122" y1="259.4" x2="122" y2="261.6" stroke="#222" stroke-width="0.8"/>
<line x1="133" y1="259.4" x2="133" y2="261.6" stroke="#222" stroke-width="0.8"/>
<line x1="144" y1="259.4" x2="144" y2="261.6" stroke="#222" stroke-width="0.8"/>
<line x1="154.7" y1="259.4" x2="154.7" y2="261.6" stroke="#222" stroke-width="0.8"/>
<line x1="164.6" y1="259.4" x2="164.6" y2="261.6" stroke="#222" stroke-width="0.8"/>
<line x1="175.2" y1="259.4" x2="175.2" y2="261.6" stroke="#222" stroke-width="0.8"/>
<text x="99.6" y="233.5" font-size="2.4" fill="#666" text-anchor="middle" transform="rotate(-90 99.6 233)">Intensity</text>
<text x="111.5" y="264.4" font-size="2.6" fill="#555" text-anchor="middle">4600</text>
<text x="122" y="264.4" font-size="2.6" fill="#555" text-anchor="middle">4650</text>
<text x="133" y="264.4" font-size="2.6" fill="#555" text-anchor="middle">4700</text>
<text x="144" y="264.4" font-size="2.6" fill="#555" text-anchor="middle">4750</text>
<text x="154.7" y="264.4" font-size="2.6" fill="#555" text-anchor="middle">4800</text>
<text x="164.6" y="264.4" font-size="2.6" fill="#555" text-anchor="middle">4850</text>
<text x="175.2" y="264.4" font-size="2.6" fill="#555" text-anchor="middle">4900</text>
<text x="148" y="267" font-size="2.3" fill="#666" text-anchor="middle">Pass</text>
<text x="104" y="201.5" font-size="7.8" font-style="italic" fill="#222" stroke="#222" stroke-width="0.16" textLength="54" lengthAdjust="spacing">TERT c.-124C&gt;T</text>
<text x="167" y="201.5" font-size="8.0" font-weight="bold" fill="#1cb46e" stroke="#1cb46e" stroke-width="0.06" textLength="5" lengthAdjust="spacing">A</text>
<text x="173.6" y="201.5" font-size="8.0" font-weight="bold" fill="#111" stroke="#111" stroke-width="0.06" textLength="6" lengthAdjust="spacing">G</text>
<rect x="14.4" y="278.4" width="169.2" height="23.8" fill="none" stroke="#666" stroke-width="1.4"/>
<text x="19.3" y="287.9" font-size="7.35" font-weight="bold" fill="#111" stroke="#111" stroke-width="0.06" textLength="36.3" lengthAdjust="spacing">Normalized</text>
<text x="60" y="287.9" font-size="7.35" font-weight="bold" fill="#111" stroke="#111" stroke-width="0.06" textLength="19.6" lengthAdjust="spacing">Allelic</text>
<text x="83.6" y="287.9" font-size="7.35" font-weight="bold" fill="#111" stroke="#111" stroke-width="0.06" textLength="36.4" lengthAdjust="spacing">Frequency:</text>
<text x="18.5" y="298" font-size="7.5" fill="#111" stroke="#111" stroke-width="0.16" textLength="72.8" lengthAdjust="spacing"><tspan font-style="italic">BRAF</tspan> 46%/<tspan font-style="italic">TERT</tspan> 55%</text>
<rect x="14" y="321" width="170.4" height="31.4" fill="none" stroke="#666" stroke-width="1.4"/>
<clipPath id="c269"><circle cx="33.4" cy="332.3" r="6.4"/></clipPath>
<g clip-path="url(#c269)"><rect x="26" y="324.9" width="14.8" height="14.8" fill="#bdbdbd"/><polygon points="32.9,324.9 40.8,324.9 40.8,339.7 33.9,339.7" fill="#8a8a8a"/></g>
<line x1="32.9" y1="325.9" x2="33.9" y2="338.7" stroke="#111" stroke-width="1.3"/>
<circle cx="33.4" cy="332.3" r="6.4" fill="none" stroke="#111" stroke-width="1.6"/>
<clipPath id="c273"><circle cx="26.6" cy="341.3" r="6.2"/></clipPath>
<g clip-path="url(#c273)"><rect x="19.4" y="334.1" width="14.4" height="14.4" fill="#bdbdbd"/><polygon points="27.7,334.1 33.8,334.1 33.8,348.5 28.7,348.5" fill="#8a8a8a"/></g>
<line x1="27.7" y1="335.1" x2="28.7" y2="347.5" stroke="#111" stroke-width="1.3"/>
<circle cx="26.6" cy="341.3" r="6.2" fill="none" stroke="#111" stroke-width="1.6"/>
<clipPath id="c277"><circle cx="40.2" cy="341.2" r="6.4"/></clipPath>
<g clip-path="url(#c277)"><rect x="32.8" y="333.8" width="14.8" height="14.8" fill="#bdbdbd"/><polygon points="39.9,333.8 47.6,333.8 47.6,348.6 40.9,348.6" fill="#8a8a8a"/></g>
<line x1="39.9" y1="334.8" x2="40.9" y2="347.6" stroke="#111" stroke-width="1.3"/>
<circle cx="40.2" cy="341.2" r="6.4" fill="none" stroke="#111" stroke-width="1.6"/>
<text x="112.7" y="330.5" font-size="7.7" fill="#111" stroke="#111" stroke-width="0.16" text-anchor="middle" textLength="99.4" lengthAdjust="spacing">One clone with  double  mutation</text>
<text x="113.5" y="340.5" font-size="7.5" fill="#111" stroke="#111" stroke-width="0.16" text-anchor="middle" textLength="47" lengthAdjust="spacing">(<tspan font-style="italic">BRAF+TERT</tspan>)</text>
<polyline points="195.2,249 209.3,248.95 209.6,248.93 209.9,248.89 210.2,248.83 210.5,248.75 210.8,248.63 211.1,248.47 211.4,248.25 211.7,247.95 212,247.55 212.3,247.03 212.6,246.37 212.9,245.55 213.2,244.53 213.5,243.31 213.8,241.86 214.1,240.19 214.4,238.29 214.7,236.18 215,233.89 215.3,231.47 215.6,228.98 215.9,226.5 216.2,224.09 216.5,221.85 216.8,219.88 217.1,218.24 217.4,217.02 217.7,216.26 218,216 218.3,216.26 218.6,217.02 218.9,218.24 219.2,219.88 219.5,221.85 219.8,224.09 220.1,226.5 220.4,228.98 220.7,231.47 221,233.89 221.3,236.18 221.6,238.29 221.9,240.19 222.2,241.86 222.5,243.31 222.8,244.53 223.1,245.55 223.4,246.37 223.7,247.03 224,247.55 224.3,247.95 224.6,248.25 224.9,248.47 225.2,248.63 225.5,248.75 225.8,248.83 226.1,248.89 226.4,248.93 226.7,248.95 252.5,248.96 252.8,248.94 253.1,248.9 253.4,248.85 253.7,248.77 254,248.67 254.3,248.52 254.6,248.32 254.9,248.07 255.2,247.75 255.5,247.36 255.8,246.89 256.1,246.34 256.4,245.74 256.7,245.08 257,244.39 257.3,243.7 257.6,243.05 257.9,242.47 258.2,241.98 258.5,241.63 258.8,241.44 259.1,241.41 259.4,241.55 259.7,241.85 260,242.29 260.3,242.85 260.6,243.48 260.9,244.16 261.2,244.85 261.5,245.52 261.8,246.15 262.1,246.71 262.4,247.21 262.7,247.63 263,247.97 263.3,248.25 263.6,248.46 263.9,248.62 264.2,248.74 264.5,248.83 264.8,248.89 265.1,248.93 265.4,248.95 269,249" fill="none" stroke="#b6b6f2" stroke-width="0.85" stroke-linejoin="round"/>
<polyline points="195.2,302.39 195.8,302.37 196.1,302.35 196.4,302.31 196.7,302.25 197,302.17 197.3,302.04 197.6,301.85 197.9,301.59 198.2,301.22 198.5,300.73 198.8,300.08 199.1,299.26 199.4,298.24 199.7,297.02 200,295.58 200.3,293.96 200.6,292.18 200.9,290.3 201.2,288.39 201.5,286.55 201.8,284.86 202.1,283.42 202.4,282.32 202.7,281.63 203,281.4 203.3,281.63 203.6,282.32 203.9,283.42 204.2,284.86 204.5,286.55 204.8,288.39 205.1,290.3 205.4,292.18 205.7,293.96 206,295.58 206.3,297.02 206.6,298.24 206.9,299.26 207.2,300.08 207.5,300.73 207.8,301.22 208.1,301.59 208.4,301.85 208.7,302.04 209,302.17 209.3,302.25 209.6,302.3 209.9,302.34 210.2,302.35 210.5,302.35 210.8,302.34 211.1,302.3 211.4,302.25 211.7,302.15 212,302.01 212.3,301.8 212.6,301.49 212.9,301.04 213.2,300.44 213.5,299.62 213.8,298.54 214.1,297.17 214.4,295.47 214.7,293.43 215,291.04 215.3,288.33 215.6,285.36 215.9,282.23 216.2,279.06 216.5,275.98 216.8,273.17 217.1,270.77 217.4,268.94 217.7,267.79 218,267.4 218.3,267.79 218.6,268.94 218.9,270.77 219.2,273.17 219.5,275.98 219.8,279.06 220.1,282.23 220.4,285.36 220.7,288.33 221,291.04 221.3,293.43 221.6,295.47 221.9,297.17 222.2,298.54 222.5,299.62 222.8,300.44 223.1,301.04 223.4,301.49 223.7,301.8 224,302.01 224.3,302.15 224.6,302.25 224.9,302.31 225.2,302.35 225.5,302.37 236.6,302.36 236.9,302.34 237.2,302.3 237.5,302.23 237.8,302.14 238.1,302 238.4,301.8 238.7,301.53 239,301.16 239.3,300.67 239.6,300.03 239.9,299.24 240.2,298.27 240.5,297.14 240.8,295.83 241.1,294.39 241.4,292.84 241.7,291.26 242,289.69 242.3,288.23 242.6,286.96 242.9,285.94 243.2,285.25 243.5,284.92 243.8,284.99 244.1,285.44 244.4,286.25 244.7,287.36 245,288.7 245.3,290.21 245.6,291.79 245.9,293.37 246.2,294.88 246.5,296.28 246.8,297.53 247.1,298.62 247.4,299.52 247.7,300.26 248,300.84 248.3,301.29 248.6,301.63 248.9,301.88 249.2,302.05 249.5,302.17 249.8,302.26 250.1,302.31 250.4,302.35 250.7,302.37 252.2,302.37 252.5,302.35 252.8,302.31 253.1,302.25 253.4,302.16 253.7,302.02 254,301.81 254.3,301.52 254.6,301.1 254.9,300.54 255.2,299.78 255.5,298.79 255.8,297.55 256.1,296.02 256.4,294.2 256.7,292.09 257,289.73 257.3,287.17 257.6,284.51 257.9,281.84 258.2,279.31 258.5,277.04 258.8,275.17 259.1,273.81 259.4,273.05 259.7,272.94 260,273.48 260.3,274.65 260.6,276.37 260.9,278.52 261.2,280.98 261.5,283.61 261.8,286.29 262.1,288.89 262.4,291.33 262.7,293.53 263,295.45 263.3,297.07 263.6,298.41 263.9,299.48 264.2,300.31 264.5,300.93 264.8,301.4 265.1,301.73 265.4,301.96 265.7,302.12 266,302.22 266.3,302.29 266.6,302.34 266.9,302.36 269,302.4" fill="none" stroke="#b6b6f2" stroke-width="0.85" stroke-linejoin="round"/>
<rect x="194.6" y="197.4" width="75" height="105" fill="none" stroke="#5a5a5a" stroke-width="1.3"/>
<line x1="194.6" y1="249" x2="269.6" y2="249" stroke="#555" stroke-width="1.0"/>
<text x="239.6" y="205.5" font-size="7.4" fill="#111" stroke="#111" stroke-width="0.16" textLength="26.4" lengthAdjust="spacing">Digested</text>
<text x="198" y="209.9" font-size="7.6" font-weight="bold" fill="#ec1c24" stroke="#ec1c24" stroke-width="0.06" textLength="17.6" lengthAdjust="spacing">Short</text>
<line x1="199.4" y1="215.6" x2="208.97" y2="220.16" stroke="#ec1c24" stroke-width="1.3"/>
<polygon points="207.35,221.6 212,221.6 209.07,217.99 209.72,220.52" fill="#ec1c24" stroke="#ec1c24" stroke-width="0.4" stroke-linejoin="miter"/>
<text x="231" y="219.5" font-size="7.5" font-weight="bold" fill="#1f3d8f" stroke="#1f3d8f" stroke-width="0.06" textLength="16" lengthAdjust="spacing">Long</text>
<line x1="240" y1="223.6" x2="250.61" y2="234.04" stroke="#1f3d8f" stroke-width="1.3"/>
<polygon points="248.6,234.88 253,236.4 251.41,232.03 251.2,234.63" fill="#1f3d8f" stroke="#1f3d8f" stroke-width="0.4" stroke-linejoin="miter"/>
<text x="232.6" y="257.5" font-size="7.4" fill="#111" stroke="#111" stroke-width="0.16" textLength="33.4" lengthAdjust="spacing">Undigested</text>
<text x="197" y="258.1" font-size="7.6" font-weight="bold" fill="#ec1c24" stroke="#ec1c24" stroke-width="0.06" textLength="17.4" lengthAdjust="spacing">Short</text>
<line x1="199.4" y1="263.6" x2="209.42" y2="268.84" stroke="#ec1c24" stroke-width="1.3"/>
<polygon points="207.75,270.23 212.4,270.4 209.61,266.68 210.17,269.23" fill="#ec1c24" stroke="#ec1c24" stroke-width="0.4" stroke-linejoin="miter"/>
<text x="226.6" y="267.9" font-size="7.5" font-weight="bold" fill="#1f3d8f" stroke="#1f3d8f" stroke-width="0.06" textLength="16.4" lengthAdjust="spacing">Long</text>
<line x1="241" y1="271" x2="251.59" y2="281.26" stroke="#1f3d8f" stroke-width="1.3"/>
<polygon points="249.59,282.11 254,283.6 252.38,279.24 252.19,281.85" fill="#1f3d8f" stroke="#1f3d8f" stroke-width="0.4" stroke-linejoin="miter"/>
<rect x="195.2" y="311.8" width="75.2" height="33.5" fill="none" stroke="#666" stroke-width="1.4"/>
<text x="200" y="322.3" font-size="7.8" font-weight="bold" fill="#111" stroke="#111" stroke-width="0.06">Corrected Allele</text>
<text x="200" y="331.9" font-size="7.8" font-weight="bold" fill="#111" stroke="#111" stroke-width="0.06">Ratio:<tspan font-weight="normal"> 3.29</tspan></text>
<text x="200" y="341.1" font-size="7.7" fill="#111" stroke="#111" stroke-width="0.16">Monoclonal</text>
<text x="212.6" y="359.7" font-size="7.9" fill="#222" stroke="#222" stroke-width="0.16" textLength="56" lengthAdjust="spacing">Panel  C, case #34</text>
<line x1="292.3" y1="195" x2="292.3" y2="258.2" stroke="#f6c0c0" stroke-width="1.3"/>
<line x1="300.4" y1="205" x2="300.4" y2="258.2" stroke="#c4c4c4" stroke-width="0.6"/>
<line x1="303.3" y1="205" x2="303.3" y2="258.2" stroke="#c4c4c4" stroke-width="0.6"/>
<line x1="344.3" y1="196" x2="344.3" y2="258.2" stroke="#86c8ee" stroke-width="0.8"/>
<line x1="355.2" y1="196" x2="355.2" y2="258.2" stroke="#86c8ee" stroke-width="0.8"/>
<path d="M282.8,253.6 C282.98,253.55 283.53,253.4 283.9,253.27 C284.27,253.14 284.65,252.81 285,252.8 C285.35,252.79 285.67,253.06 286,253.23 C286.33,253.4 286.67,253.74 287,253.8 C287.33,253.86 287.67,253.68 288,253.58 C288.33,253.48 288.67,253.26 289,253.2 C289.33,253.14 289.67,253.11 290,253.21 C290.33,253.31 290.67,253.72 291,253.8 C291.33,253.88 291.67,253.85 292,253.71 C292.33,253.58 292.67,253 293,253 C293.33,253 293.67,253.59 294,253.72 C294.33,253.86 294.67,253.81 295,253.8 C295.33,253.79 295.67,253.75 296,253.65 C296.33,253.55 296.67,253.3 297,253.2 C297.33,253.1 297.67,252.99 298,253.06 C298.33,253.13 298.67,253.59 299,253.6 C299.33,253.61 299.67,253.29 300,253.12 C300.33,252.95 300.63,253.79 301,252.6 C301.37,251.41 301.9,248.43 302.2,246 C302.5,243.57 302.62,240.25 302.8,238 C302.98,235.75 303.12,232.17 303.3,232.5 C303.48,232.83 303.68,237.25 303.9,240 C304.12,242.75 304.33,246.8 304.6,249 C304.87,251.2 305.1,252.43 305.5,253.2 C305.9,253.97 306.58,253.6 307,253.6 C307.42,253.6 307.67,253.29 308,253.23 C308.33,253.16 308.67,253.21 309,253.2 C309.33,253.19 309.67,253.08 310,253.15 C310.33,253.22 310.67,253.5 311,253.6 C311.33,253.7 311.67,253.85 312,253.75 C312.33,253.65 312.62,253.21 313,253 C313.38,252.79 313.87,252.83 314.3,252.5 C314.73,252.16 315.15,250.88 315.6,251 C316.05,251.12 316.6,252.88 317,253.2 C317.4,253.52 317.67,252.88 318,252.94 C318.33,253.01 318.67,253.48 319,253.6 C319.33,253.72 319.67,253.76 320,253.66 C320.33,253.56 320.67,253.06 321,253 C321.33,252.94 321.67,253.24 322,253.3 C322.33,253.37 322.67,253.45 323,253.4 C323.33,253.35 323.67,253.08 324,252.98 C324.33,252.88 324.67,252.82 325,252.8 C325.33,252.78 325.67,252.78 326,252.88 C326.33,252.98 326.67,253.32 327,253.4 C327.33,253.48 327.67,253.44 328,253.37 C328.33,253.31 328.67,253.02 329,253 C329.33,252.98 329.67,253.16 330,253.26 C330.33,253.36 330.67,253.56 331,253.6 C331.33,253.64 331.67,253.59 332,253.49 C332.33,253.39 332.67,253.09 333,253 C333.33,252.91 333.67,253.03 334,252.96 C334.33,252.9 334.67,252.67 335,252.6 C335.33,252.53 335.67,252.43 336,252.53 C336.33,252.63 336.67,253.13 337,253.2 C337.33,253.27 337.67,253.13 338,252.97 C338.33,252.8 338.67,252.21 339,252.2 C339.33,252.19 339.67,252.82 340,252.88 C340.33,252.95 340.53,252.91 341,252.6 C341.47,252.29 342.37,251.6 342.8,251 C343.23,250.4 343.35,249.7 343.6,249 C343.85,248.3 344.07,246.63 344.3,246.8 C344.53,246.97 344.72,249.07 345,250 C345.28,250.93 345.67,251.86 346,252.4 C346.33,252.94 346.67,253.14 347,253.27 C347.33,253.4 347.67,253.23 348,253.2 C348.33,253.17 348.67,253.18 349,253.11 C349.33,253.05 349.67,252.98 350,252.8 C350.33,252.62 350.67,252.14 351,252.04 C351.33,251.94 351.6,252.71 352,252.2 C352.4,251.69 353.03,251.7 353.4,249 C353.77,246.3 353.97,241.17 354.2,236 C354.43,230.83 354.63,222.03 354.8,218 C354.97,213.97 355.05,211.13 355.2,211.8 C355.35,212.47 355.52,217.3 355.7,222 C355.88,226.7 356.05,235.33 356.3,240 C356.55,244.67 356.83,247.9 357.2,250 C357.57,252.1 358.03,252.13 358.5,252.6 C358.97,253.07 359.58,252.9 360,252.8 C360.42,252.7 360.67,252.1 361,252 C361.33,251.9 361.62,252.18 362,252.2 C362.38,252.22 362.87,252.03 363.3,252.13 C363.73,252.23 364.38,252.69 364.6,252.8" fill="none" stroke="#7a7a7a" stroke-width="0.75" stroke-linejoin="round"/>
<rect x="282.5" y="204.9" width="82.1" height="53.3" fill="none" stroke="#b0b0b0" stroke-width="0.8"/>
<line x1="281.9" y1="208.5" x2="283.7" y2="208.5" stroke="#888" stroke-width="0.6"/>
<text x="280.3" y="209.8" font-size="2.6" fill="#555" text-anchor="end">9</text>
<line x1="281.9" y1="215" x2="283.7" y2="215" stroke="#888" stroke-width="0.6"/>
<text x="280.3" y="216.3" font-size="2.6" fill="#555" text-anchor="end">8</text>
<line x1="281.9" y1="221.5" x2="283.7" y2="221.5" stroke="#888" stroke-width="0.6"/>
<text x="280.3" y="222.8" font-size="2.6" fill="#555" text-anchor="end">7</text>
<line x1="281.9" y1="228" x2="283.7" y2="228" stroke="#888" stroke-width="0.6"/>
<text x="280.3" y="229.3" font-size="2.6" fill="#555" text-anchor="end">6</text>
<line x1="281.9" y1="234.5" x2="283.7" y2="234.5" stroke="#888" stroke-width="0.6"/>
<text x="280.3" y="235.8" font-size="2.6" fill="#555" text-anchor="end">5</text>
<line x1="281.9" y1="241" x2="283.7" y2="241" stroke="#888" stroke-width="0.6"/>
<text x="280.3" y="242.3" font-size="2.6" fill="#555" text-anchor="end">4</text>
<line x1="281.9" y1="247.5" x2="283.7" y2="247.5" stroke="#888" stroke-width="0.6"/>
<text x="280.3" y="248.8" font-size="2.6" fill="#555" text-anchor="end">3</text>
<line x1="281.9" y1="254" x2="283.7" y2="254" stroke="#888" stroke-width="0.6"/>
<text x="280.3" y="255.3" font-size="2.6" fill="#555" text-anchor="end">2</text>
<line x1="284.5" y1="257.4" x2="284.5" y2="259.6" stroke="#777" stroke-width="0.6"/>
<text x="284.5" y="262.3" font-size="2.6" fill="#555" text-anchor="middle">4400</text>
<line x1="294" y1="257.4" x2="294" y2="259.6" stroke="#777" stroke-width="0.6"/>
<text x="294" y="262.3" font-size="2.6" fill="#555" text-anchor="middle">4500</text>
<line x1="304" y1="257.4" x2="304" y2="259.6" stroke="#777" stroke-width="0.6"/>
<text x="304" y="262.3" font-size="2.6" fill="#555" text-anchor="middle">4550</text>
<line x1="313.9" y1="257.4" x2="313.9" y2="259.6" stroke="#777" stroke-width="0.6"/>
<text x="313.9" y="262.3" font-size="2.6" fill="#555" text-anchor="middle">4600</text>
<line x1="323.3" y1="257.4" x2="323.3" y2="259.6" stroke="#777" stroke-width="0.6"/>
<text x="323.3" y="262.3" font-size="2.6" fill="#555" text-anchor="middle">4650</text>
<line x1="332.8" y1="257.4" x2="332.8" y2="259.6" stroke="#777" stroke-width="0.6"/>
<text x="332.8" y="262.3" font-size="2.6" fill="#555" text-anchor="middle">4700</text>
<line x1="342.5" y1="257.4" x2="342.5" y2="259.6" stroke="#777" stroke-width="0.6"/>
<text x="342.5" y="262.3" font-size="2.6" fill="#555" text-anchor="middle">4750</text>
<line x1="352.3" y1="257.4" x2="352.3" y2="259.6" stroke="#777" stroke-width="0.6"/>
<text x="352.3" y="262.3" font-size="2.6" fill="#555" text-anchor="middle">4800</text>
<line x1="362" y1="257.4" x2="362" y2="259.6" stroke="#777" stroke-width="0.6"/>
<text x="362" y="262.3" font-size="2.6" fill="#555" text-anchor="middle">4850</text>
<text x="279.6" y="232.5" font-size="2.7" fill="#666" text-anchor="middle" transform="rotate(-90 279.4 232)">Intensity</text>
<text x="323" y="265.9" font-size="2.7" fill="#555" text-anchor="middle">Pass</text>
<text x="292.4" y="201.5" font-size="7.9" font-style="italic" fill="#222" stroke="#222" stroke-width="0.16" textLength="39.6" lengthAdjust="spacing">BRAFV600E</text>
<text x="341.4" y="201.5" font-size="8.0" font-weight="bold" fill="#1cb46e" stroke="#1cb46e" stroke-width="0.06" textLength="5" lengthAdjust="spacing">A</text>
<text x="352.4" y="201.5" font-size="8.0" font-weight="bold" fill="#ec1c24" stroke="#ec1c24" stroke-width="0.06" textLength="4.6" lengthAdjust="spacing">T</text>
<line x1="380.8" y1="195" x2="380.8" y2="258.2" stroke="#e83030" stroke-width="0.9" stroke-dasharray="1.5,1"/>
<line x1="398.6" y1="206" x2="398.6" y2="258.2" stroke="#999" stroke-width="0.5" stroke-dasharray="1,1.2"/>
<line x1="428.7" y1="206" x2="428.7" y2="258.2" stroke="#999" stroke-width="0.5" stroke-dasharray="1,1.2"/>
<line x1="437.8" y1="196" x2="437.8" y2="258.2" stroke="#26b2ec" stroke-width="0.9" stroke-dasharray="1.5,1"/>
<line x1="441.2" y1="196" x2="441.2" y2="258.2" stroke="#26b2ec" stroke-width="0.9" stroke-dasharray="1.5,1"/>
<path d="M371.4,255.5 C371.67,255.62 372.57,256.14 373,256.2 C373.43,256.26 373.67,255.96 374,255.86 C374.33,255.76 374.67,255.63 375,255.6 C375.33,255.57 375.67,255.61 376,255.67 C376.33,255.74 376.67,256.09 377,256 C377.33,255.91 377.67,255.31 378,255.14 C378.33,254.97 378.58,255.36 379,255 C379.42,254.64 380.1,253.45 380.5,253 C380.9,252.55 381.05,252.2 381.4,252.3 C381.75,252.4 382.17,253.12 382.6,253.6 C383.03,254.08 383.6,254.81 384,255.2 C384.4,255.59 384.67,255.83 385,255.97 C385.33,256.1 385.67,256.11 386,256 C386.33,255.89 386.67,255.37 387,255.31 C387.33,255.24 387.67,255.5 388,255.6 C388.33,255.7 388.67,255.8 389,255.9 C389.33,256 389.67,256.12 390,256.2 C390.33,256.28 390.67,256.46 391,256.4 C391.33,256.33 391.67,255.94 392,255.8 C392.33,255.66 392.67,255.51 393,255.58 C393.33,255.65 393.67,256.14 394,256.2 C394.33,256.26 394.67,256.05 395,255.95 C395.33,255.85 395.67,255.61 396,255.6 C396.33,255.59 396.67,255.85 397,255.92 C397.33,255.98 397.67,256.11 398,256 C398.33,255.89 398.67,255.34 399,255.24 C399.33,255.14 399.67,255.36 400,255.4 C400.33,255.44 400.67,255.41 401,255.48 C401.33,255.55 401.67,255.76 402,255.8 C402.33,255.84 402.67,255.8 403,255.7 C403.33,255.6 403.67,255.24 404,255.2 C404.33,255.16 404.67,255.35 405,255.45 C405.33,255.55 405.67,255.8 406,255.8 C406.33,255.8 406.67,255.63 407,255.43 C407.33,255.23 407.58,254.92 408,254.6 C408.42,254.28 408.93,253.88 409.5,253.5 C410.07,253.12 410.85,252.88 411.4,252.3 C411.95,251.72 412.42,252.72 412.8,250 C413.18,247.28 413.43,241 413.7,236 C413.97,231 414.2,223.87 414.4,220 C414.6,216.13 414.73,212.47 414.9,212.8 C415.07,213.13 415.22,217.47 415.4,222 C415.58,226.53 415.77,235 416,240 C416.23,245 416.38,249.47 416.8,252 C417.22,254.53 417.97,254.6 418.5,255.2 C419.03,255.8 419.58,255.64 420,255.6 C420.42,255.56 420.67,255.06 421,254.96 C421.33,254.86 421.67,254.99 422,255 C422.33,255.01 422.67,254.94 423,255.04 C423.33,255.14 423.67,255.6 424,255.6 C424.33,255.6 424.67,255.08 425,255.01 C425.33,254.94 425.67,255.13 426,255.2 C426.33,255.27 426.67,255.34 427,255.41 C427.33,255.47 427.67,255.51 428,255.6 C428.33,255.69 428.67,255.96 429,255.92 C429.33,255.89 429.67,255.46 430,255.4 C430.33,255.34 430.67,255.56 431,255.59 C431.33,255.62 431.67,255.6 432,255.6 C432.33,255.6 432.67,255.67 433,255.57 C433.33,255.47 433.57,255.6 434,255 C434.43,254.4 435.13,253.5 435.6,252 C436.07,250.5 436.37,247.1 436.8,246 C437.23,244.9 437.8,245.23 438.2,245.4 C438.6,245.57 438.9,248.57 439.2,247 C439.5,245.43 439.77,239.5 440,236 C440.23,232.5 440.4,228.55 440.6,226 C440.8,223.45 440.98,220.37 441.2,220.7 C441.42,221.03 441.67,224.45 441.9,228 C442.13,231.55 442.35,238 442.6,242 C442.85,246 443,249.9 443.4,252 C443.8,254.1 444.48,254.43 445,254.6 C445.52,254.77 446,252.93 446.5,253 C447,253.07 447.58,254.77 448,255 C448.42,255.23 448.67,254.55 449,254.38 C449.33,254.22 449.57,253.8 450,254 C450.43,254.2 451.33,255.33 451.6,255.6" fill="none" stroke="#1e1e1e" stroke-width="0.9" stroke-linejoin="round"/>
<rect x="371" y="205.9" width="81" height="52.3" fill="none" stroke="#222" stroke-width="1.0"/>
<line x1="369.6" y1="212" x2="371.8" y2="212" stroke="#222" stroke-width="0.6"/>
<line x1="369.6" y1="218.5" x2="371.8" y2="218.5" stroke="#222" stroke-width="0.6"/>
<line x1="369.6" y1="225" x2="371.8" y2="225" stroke="#222" stroke-width="0.6"/>
<line x1="369.6" y1="231.5" x2="371.8" y2="231.5" stroke="#222" stroke-width="0.6"/>
<line x1="369.6" y1="238" x2="371.8" y2="238" stroke="#222" stroke-width="0.6"/>
<line x1="369.6" y1="244.5" x2="371.8" y2="244.5" stroke="#222" stroke-width="0.6"/>
<line x1="369.6" y1="251" x2="371.8" y2="251" stroke="#222" stroke-width="0.6"/>
<line x1="369.6" y1="257.5" x2="371.8" y2="257.5" stroke="#222" stroke-width="0.6"/>
<polygon points="378.40,262.2 379.70,258.6 381.00,262.2" fill="#222"/>
<polygon points="388.20,262.2 389.50,258.6 390.80,262.2" fill="#222"/>
<polygon points="398.30,262.2 399.60,258.6 400.90,262.2" fill="#222"/>
<polygon points="408.70,262.2 410.00,258.6 411.30,262.2" fill="#222"/>
<polygon points="418.70,262.2 420.00,258.6 421.30,262.2" fill="#222"/>
<polygon points="428.70,262.2 430.00,258.6 431.30,262.2" fill="#222"/>
<polygon points="440.00,262.2 441.30,258.6 442.60,262.2" fill="#222"/>
<text x="366.5" y="233.5" font-size="2.4" fill="#666" text-anchor="middle" transform="rotate(-90 366.5 233)">Intensity</text>
<text x="410.2" y="266.3" font-size="2.8" fill="#333" text-anchor="middle">Pass</text>
<text x="375.2" y="201.5" font-size="8.1" font-style="italic" fill="#222" stroke="#222" stroke-width="0.16" textLength="56.5" lengthAdjust="spacing">TERT c.-124C&gt;T</text>
<text x="433.2" y="201.5" font-size="8.0" font-weight="bold" fill="#1cb46e" stroke="#1cb46e" stroke-width="0.06" textLength="5" lengthAdjust="spacing">A</text>
<text x="438.6" y="201.5" font-size="8.0" font-weight="bold" fill="#111" stroke="#111" stroke-width="0.06" textLength="5.8" lengthAdjust="spacing">G</text>
<rect x="285.2" y="279.1" width="166.4" height="23.7" fill="none" stroke="#666" stroke-width="1.4"/>
<text x="290" y="288.1" font-size="7.35" font-weight="bold" fill="#111" stroke="#111" stroke-width="0.06" textLength="36.8" lengthAdjust="spacing">Normalized</text>
<text x="330.7" y="288.1" font-size="7.35" font-weight="bold" fill="#111" stroke="#111" stroke-width="0.06" textLength="19.7" lengthAdjust="spacing">Allelic</text>
<text x="354.4" y="288.1" font-size="7.35" font-weight="bold" fill="#111" stroke="#111" stroke-width="0.06" textLength="36.6" lengthAdjust="spacing">Frequency:</text>
<text x="289.6" y="298.1" font-size="7.5" fill="#111" stroke="#111" stroke-width="0.16" textLength="72.8" lengthAdjust="spacing"><tspan font-style="italic">BRAF</tspan> 30%/<tspan font-style="italic">TERT</tspan> 34%</text>
<rect x="285" y="316.6" width="166.6" height="37.4" fill="none" stroke="#666" stroke-width="1.4"/>
<circle cx="297.7" cy="328.7" r="5.5" fill="#a8a8a8" stroke="#111" stroke-width="1.5"/>
<circle cx="311.4" cy="329.1" r="5.5" fill="#7a7a7a" stroke="#111" stroke-width="1.5"/>
<circle cx="307.5" cy="343.4" r="5.5" fill="#787878" stroke="#111" stroke-width="1.5"/>
<circle cx="313.5" cy="337.3" r="5.5" fill="#868686" stroke="#111" stroke-width="1.5"/>
<circle cx="298.2" cy="341.6" r="5.5" fill="#b5b5b5" stroke="#111" stroke-width="1.5"/>
<circle cx="302.7" cy="333.8" r="5.5" fill="#bdbdbd" stroke="#111" stroke-width="1.5"/>
<text x="389.3" y="331.5" font-size="7.7" fill="#111" stroke="#111" stroke-width="0.16" text-anchor="middle" textLength="111.4" lengthAdjust="spacing">Two clones with different  mutations</text>
<text x="389" y="341.5" font-size="7.4" fill="#111" stroke="#111" stroke-width="0.16" text-anchor="middle" textLength="44" lengthAdjust="spacing">(<tspan font-style="italic">BRAF/TERT</tspan>)</text>
<polyline points="455.2,245.8 462.4,245.78 462.6,245.73 462.8,245.6 463,245.33 463.2,244.83 463.4,244.1 463.6,243.26 463.8,242.57 464,242.3 464.2,242.57 464.4,243.26 464.6,244.1 464.8,244.83 465,245.32 465.2,245.59 465.4,245.66 465.6,245.58 465.8,245.31 466,244.89 466.2,244.48 466.4,244.3 466.6,244.48 466.8,244.89 467,245.31 467.2,245.6 467.4,245.73 467.6,245.78 468.2,245.79 468.4,245.74 468.6,245.61 468.8,245.27 469,244.51 469.2,243.16 469.4,241.18 469.6,238.9 469.8,237.03 470,236.3 470.2,237.03 470.4,238.9 470.6,241.18 470.8,243.16 471,244.51 471.2,245.25 471.4,245.56 471.6,245.59 471.8,245.34 472,244.66 472.2,243.3 472.4,240.95 472.6,237.57 472.8,233.56 473,229.86 473.2,227.6 473.4,227.6 473.6,229.86 473.8,233.56 474,237.57 474.2,240.95 474.4,243.3 474.6,244.67 474.8,245.35 475,245.64 475.2,245.75 482.8,245.77 483,245.68 483.2,245.43 483.4,244.82 483.6,243.62 483.8,241.67 484,239.13 484.2,236.61 484.4,235.02 484.6,235.02 484.8,236.61 485,239.13 485.2,241.67 485.4,243.62 485.6,244.82 485.8,245.43 486,245.68 486.2,245.77 505.4,245.76 505.6,245.66 505.8,245.48 506,245.19 506.2,244.92 506.4,244.8 506.6,244.92 506.8,245.19 507,245.48 507.2,245.66 507.4,245.76 508.4,245.77 508.6,245.7 508.8,245.54 509,245.25 509.2,244.89 509.4,244.64 509.6,244.64 509.8,244.89 510,245.25 510.2,245.54 510.4,245.7 510.6,245.77 517.2,245.76 517.4,245.66 517.6,245.44 517.8,245.01 518,244.3 518.2,243.37 518.4,242.46 518.6,241.88 518.8,241.88 519,242.46 519.2,243.37 519.4,244.3 519.6,245.01 519.8,245.44 520,245.66 520.2,245.76 525.8,245.78 526,245.73 526.2,245.59 526.4,245.24 526.6,244.48 526.8,243.06 527,240.84 527.2,237.91 527.4,234.82 527.6,232.41 527.8,231.5 528,232.41 528.2,234.82 528.4,237.91 528.6,240.84 528.8,243.06 529,244.48 529.2,245.24 529.4,245.59 529.6,245.73 529.8,245.78 535,245.8" fill="#e4e4fd" stroke="#7b7bf5" stroke-width="0.8" stroke-linejoin="round"/>
<line x1="454.6" y1="246.2" x2="535.5" y2="246.2" stroke="#4a5aa8" stroke-width="1.0"/>
<polyline points="455.2,301.7 464,301.66 464.2,301.57 464.4,301.37 464.6,300.97 464.8,300.31 465,299.46 465.2,298.61 465.4,298.07 465.6,298.07 465.8,298.61 466,299.46 466.2,300.31 466.4,300.97 466.6,301.37 466.8,301.57 467,301.66 469.2,301.68 469.4,301.62 469.6,301.44 469.8,300.96 470,299.93 470.2,298.06 470.4,295.32 470.6,292.19 470.8,289.61 471,288.6 471.2,289.61 471.4,292.19 471.6,295.32 471.8,298.06 472,299.93 472.2,300.96 472.4,301.42 472.6,301.55 472.8,301.45 473,301.02 473.2,300 473.4,297.95 473.6,294.44 473.8,289.38 474,283.38 474.2,277.83 474.4,274.45 474.6,274.45 474.8,277.83 475,283.38 475.2,289.38 475.4,294.44 475.6,297.95 475.8,300 476,301.03 476.2,301.47 476.4,301.63 476.6,301.68 516.4,301.68 516.6,301.62 516.8,301.48 517,301.16 517.2,300.59 517.4,299.75 517.6,298.8 517.8,298.01 518,297.7 518.2,298.01 518.4,298.8 518.6,299.75 518.8,300.59 519,301.16 519.2,301.48 519.4,301.62 519.6,301.68 521.8,301.69 522,301.65 522.2,301.52 522.4,301.19 522.6,300.47 522.8,299.17 523,297.27 523.2,295.09 523.4,293.3 523.6,292.6 523.8,293.3 524,295.09 524.2,297.27 524.4,299.17 524.6,300.47 524.8,301.18 525,301.49 525.2,301.54 525.4,301.35 525.6,300.79 525.8,299.56 526,297.28 526.2,293.68 526.4,288.96 526.6,283.97 526.8,280.08 527,278.6 527.2,280.07 527.4,283.93 527.6,288.85 527.8,293.36 528,296.51 528.2,297.98 528.4,298.02 528.6,297.23 528.8,296.33 529,295.97 529.2,296.43 529.4,297.56 529.6,298.93 529.8,300.12 530,300.93 530.2,301.38 530.4,301.59 530.6,301.67 535,301.7" fill="#e4e4fd" stroke="#7b7bf5" stroke-width="0.8" stroke-linejoin="round"/>
<rect x="454.6" y="195.3" width="80.9" height="106.4" fill="none" stroke="#5a5a5a" stroke-width="1.3"/>
<text x="457.3" y="205" font-size="7.6" font-weight="bold" fill="#ec1c24" stroke="#ec1c24" stroke-width="0.06" textLength="17.2" lengthAdjust="spacing">Short</text>
<line x1="471.8" y1="211" x2="471.8" y2="222.5" stroke="#ec1c24" stroke-width="1.1"/>
<polyline points="468.8,219.3 471.8,223 474.8,219.3" fill="none" stroke="#ec1c24" stroke-width="1.1"/>
<text x="505" y="202.9" font-size="7.4" fill="#111" stroke="#111" stroke-width="0.16" textLength="26.5" lengthAdjust="spacing">Digested</text>
<text x="488.7" y="217.8" font-size="7.5" font-weight="bold" fill="#1f3d8f" stroke="#1f3d8f" stroke-width="0.06" textLength="16.3" lengthAdjust="spacing">Long</text>
<line x1="508.5" y1="221" x2="516.82" y2="226.62" stroke="#1f3d8f" stroke-width="1.3"/>
<polygon points="515,227.81 519.6,228.5 517.24,224.49 517.51,227.09" fill="#1f3d8f" stroke="#1f3d8f" stroke-width="0.4" stroke-linejoin="miter"/>
<text x="457" y="255" font-size="7.6" font-weight="bold" fill="#ec1c24" stroke="#ec1c24" stroke-width="0.06" textLength="17.2" lengthAdjust="spacing">Short</text>
<text x="498" y="255" font-size="7.4" fill="#111" stroke="#111" stroke-width="0.16" textLength="33" lengthAdjust="spacing">Undigested</text>
<line x1="473" y1="260" x2="473" y2="271.5" stroke="#ec1c24" stroke-width="1.1"/>
<polyline points="470,268.3 473,272 476,268.3" fill="none" stroke="#ec1c24" stroke-width="1.1"/>
<text x="488" y="270" font-size="7.5" font-weight="bold" fill="#1f3d8f" stroke="#1f3d8f" stroke-width="0.06" textLength="16.5" lengthAdjust="spacing">Long</text>
<line x1="507.8" y1="274" x2="517.16" y2="279.91" stroke="#1f3d8f" stroke-width="1.3"/>
<polygon points="515.38,281.15 520,281.7 517.52,277.77 517.87,280.35" fill="#1f3d8f" stroke="#1f3d8f" stroke-width="0.4" stroke-linejoin="miter"/>
<rect x="455.4" y="311.6" width="80.6" height="33.4" fill="none" stroke="#666" stroke-width="1.4"/>
<text x="495.2" y="321.5" font-size="7.8" font-weight="bold" fill="#111" stroke="#111" stroke-width="0.06" text-anchor="middle" textLength="54.4" lengthAdjust="spacing">Corrected Allele</text>
<text x="495.2" y="330.9" font-size="7.8" font-weight="bold" fill="#111" stroke="#111" stroke-width="0.06" text-anchor="middle" textLength="36.4" lengthAdjust="spacing">Ratio:<tspan font-weight="normal"> 1.14</tspan></text>
<text x="495" y="340.5" font-size="7.7" fill="#111" stroke="#111" stroke-width="0.16" text-anchor="middle" textLength="30.8" lengthAdjust="spacing">Polyclonal</text>
<text x="475.6" y="359.1" font-size="7.9" fill="#222" stroke="#222" stroke-width="0.16" textLength="56.4" lengthAdjust="spacing">Panel  D, case #40</text>
</svg>
</body></html>
